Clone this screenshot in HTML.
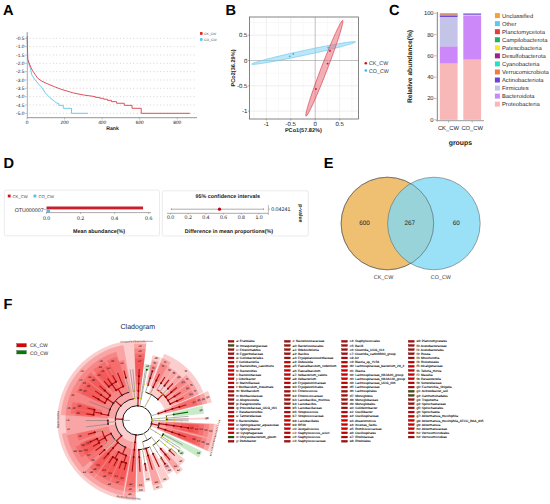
<!DOCTYPE html>
<html><head><meta charset="utf-8"><style>
html,body{margin:0;padding:0;background:#fff;}
svg{display:block;font-family:"Liberation Sans", sans-serif;text-rendering:geometricPrecision;}
</style></head><body>
<svg width="550" height="504" viewBox="0 0 550 504">
<text x="3.00" y="14.50" font-size="14.6" fill="#000" text-anchor="start" font-weight="bold" >A</text>
<text x="225.50" y="14.70" font-size="14.6" fill="#000" text-anchor="start" font-weight="bold" >B</text>
<text x="389.00" y="14.50" font-size="14.6" fill="#000" text-anchor="start" font-weight="bold" >C</text>
<text x="3.50" y="168.00" font-size="14.6" fill="#000" text-anchor="start" font-weight="bold" >D</text>
<text x="323.70" y="168.00" font-size="14.6" fill="#000" text-anchor="start" font-weight="bold" >E</text>
<text x="3.50" y="308.70" font-size="14.6" fill="#000" text-anchor="start" font-weight="bold" >F</text>
<line x1="29.5" y1="38.30" x2="197" y2="38.30" stroke="#c4c4c4" stroke-width="0.8" stroke-dasharray="0.9 2.45"/>
<text x="24.40" y="40.00" font-size="4.8" fill="#111" text-anchor="end" font-weight="normal" >-0.5</text>
<line x1="25" y1="38.30" x2="27" y2="38.30" stroke="#888" stroke-width="0.5"/>
<line x1="29.5" y1="46.63" x2="197" y2="46.63" stroke="#c4c4c4" stroke-width="0.8" stroke-dasharray="0.9 2.45"/>
<text x="24.40" y="48.34" font-size="4.8" fill="#111" text-anchor="end" font-weight="normal" >-1.0</text>
<line x1="25" y1="46.63" x2="27" y2="46.63" stroke="#888" stroke-width="0.5"/>
<line x1="29.5" y1="54.97" x2="197" y2="54.97" stroke="#c4c4c4" stroke-width="0.8" stroke-dasharray="0.9 2.45"/>
<text x="24.40" y="56.67" font-size="4.8" fill="#111" text-anchor="end" font-weight="normal" >-1.5</text>
<line x1="25" y1="54.97" x2="27" y2="54.97" stroke="#888" stroke-width="0.5"/>
<line x1="29.5" y1="63.30" x2="197" y2="63.30" stroke="#c4c4c4" stroke-width="0.8" stroke-dasharray="0.9 2.45"/>
<text x="24.40" y="65.00" font-size="4.8" fill="#111" text-anchor="end" font-weight="normal" >-2.0</text>
<line x1="25" y1="63.30" x2="27" y2="63.30" stroke="#888" stroke-width="0.5"/>
<line x1="29.5" y1="71.64" x2="197" y2="71.64" stroke="#c4c4c4" stroke-width="0.8" stroke-dasharray="0.9 2.45"/>
<text x="24.40" y="73.34" font-size="4.8" fill="#111" text-anchor="end" font-weight="normal" >-2.5</text>
<line x1="25" y1="71.64" x2="27" y2="71.64" stroke="#888" stroke-width="0.5"/>
<line x1="29.5" y1="79.97" x2="197" y2="79.97" stroke="#c4c4c4" stroke-width="0.8" stroke-dasharray="0.9 2.45"/>
<text x="24.40" y="81.67" font-size="4.8" fill="#111" text-anchor="end" font-weight="normal" >-3.0</text>
<line x1="25" y1="79.97" x2="27" y2="79.97" stroke="#888" stroke-width="0.5"/>
<line x1="29.5" y1="88.31" x2="197" y2="88.31" stroke="#c4c4c4" stroke-width="0.8" stroke-dasharray="0.9 2.45"/>
<text x="24.40" y="90.01" font-size="4.8" fill="#111" text-anchor="end" font-weight="normal" >-3.5</text>
<line x1="25" y1="88.31" x2="27" y2="88.31" stroke="#888" stroke-width="0.5"/>
<line x1="29.5" y1="96.65" x2="197" y2="96.65" stroke="#c4c4c4" stroke-width="0.8" stroke-dasharray="0.9 2.45"/>
<text x="24.40" y="98.35" font-size="4.8" fill="#111" text-anchor="end" font-weight="normal" >-4.0</text>
<line x1="25" y1="96.65" x2="27" y2="96.65" stroke="#888" stroke-width="0.5"/>
<line x1="29.5" y1="104.98" x2="197" y2="104.98" stroke="#c4c4c4" stroke-width="0.8" stroke-dasharray="0.9 2.45"/>
<text x="24.40" y="106.68" font-size="4.8" fill="#111" text-anchor="end" font-weight="normal" >-4.5</text>
<line x1="25" y1="104.98" x2="27" y2="104.98" stroke="#888" stroke-width="0.5"/>
<line x1="29.5" y1="113.32" x2="197" y2="113.32" stroke="#c4c4c4" stroke-width="0.8" stroke-dasharray="0.9 2.45"/>
<text x="24.40" y="115.02" font-size="4.8" fill="#111" text-anchor="end" font-weight="normal" >-5.0</text>
<line x1="25" y1="113.32" x2="27" y2="113.32" stroke="#888" stroke-width="0.5"/>
<line x1="27.4" y1="32" x2="27.4" y2="118.2" stroke="#bbb" stroke-width="1.3"/>
<line x1="27" y1="117.6" x2="197" y2="117.6" stroke="#aaa" stroke-width="1.3"/>
<line x1="27.00" y1="117.6" x2="27.00" y2="119.5" stroke="#888" stroke-width="0.5"/>
<text x="27.00" y="123.60" font-size="4.8" fill="#111" text-anchor="middle" font-weight="normal" >0</text>
<line x1="64.58" y1="117.6" x2="64.58" y2="119.5" stroke="#888" stroke-width="0.5"/>
<text x="64.58" y="123.60" font-size="4.8" fill="#111" text-anchor="middle" font-weight="normal" >200</text>
<line x1="102.15" y1="117.6" x2="102.15" y2="119.5" stroke="#888" stroke-width="0.5"/>
<text x="102.15" y="123.60" font-size="4.8" fill="#111" text-anchor="middle" font-weight="normal" >400</text>
<line x1="139.73" y1="117.6" x2="139.73" y2="119.5" stroke="#888" stroke-width="0.5"/>
<text x="139.73" y="123.60" font-size="4.8" fill="#111" text-anchor="middle" font-weight="normal" >600</text>
<line x1="177.30" y1="117.6" x2="177.30" y2="119.5" stroke="#888" stroke-width="0.5"/>
<text x="177.30" y="123.60" font-size="4.8" fill="#111" text-anchor="middle" font-weight="normal" >800</text>
<text x="112.50" y="129.80" font-size="5.2" fill="#222" text-anchor="middle" font-weight="bold" >Rank</text>
<polyline points="27.19,32.63 27.38,43.30 27.56,51.64 27.75,59.47 28.69,63.30 30.38,68.31 31.88,74.97 35.27,80.14 39.02,84.64 41.47,87.14 45.41,92.98 49.73,97.48 54.24,101.15 57.06,103.31 58.75,103.31 58.75,105.36 63.26,105.36 63.26,108.30 71.53,108.30 71.53,113.32 88.06,113.32" fill="none" stroke="#6fcbea" stroke-width="1" stroke-linejoin="round"/>
<polyline points="27.19,36.30 27.38,44.97 27.56,53.30 27.75,59.47 29.07,62.97 30.95,67.47 32.64,70.81 34.89,74.14 37.71,78.31 42.03,81.31 47.85,83.98 54.24,86.64 60.63,89.14 73.41,92.98 83.36,94.98 95.39,96.65 95.39,97.41 99.71,97.41 99.71,98.26 103.66,98.26 103.66,99.23 107.41,99.23 107.41,100.34 111.36,100.34 111.36,101.66 116.62,101.66 116.62,103.28 124.32,103.28 124.32,105.36 132.02,105.36 132.02,108.30 141.23,108.30 141.23,113.32 189.89,113.32" fill="none" stroke="#e0505a" stroke-width="1" stroke-linejoin="round"/>
<rect x="200" y="32.1" width="2.6" height="2.7" fill="#e02020"/>
<rect x="200" y="38.1" width="2.6" height="2.7" fill="#5bc4ee"/>
<text x="204.00" y="35.00" font-size="3.4" fill="#555" text-anchor="start" font-weight="normal" >CK_CW</text>
<text x="204.00" y="40.90" font-size="3.4" fill="#555" text-anchor="start" font-weight="normal" >CO_CW</text>
<rect x="249.5" y="17" width="109" height="102" fill="#fff"/>
<line x1="254.07" y1="17" x2="254.07" y2="119" stroke="#efefef" stroke-width="0.4"/>
<line x1="278.52" y1="17" x2="278.52" y2="119" stroke="#efefef" stroke-width="0.4"/>
<line x1="302.97" y1="17" x2="302.97" y2="119" stroke="#efefef" stroke-width="0.4"/>
<line x1="327.43" y1="17" x2="327.43" y2="119" stroke="#efefef" stroke-width="0.4"/>
<line x1="351.88" y1="17" x2="351.88" y2="119" stroke="#efefef" stroke-width="0.4"/>
<line x1="249.5" y1="98.45" x2="358.5" y2="98.45" stroke="#efefef" stroke-width="0.4"/>
<line x1="249.5" y1="73.15" x2="358.5" y2="73.15" stroke="#efefef" stroke-width="0.4"/>
<line x1="249.5" y1="47.85" x2="358.5" y2="47.85" stroke="#efefef" stroke-width="0.4"/>
<line x1="249.5" y1="22.55" x2="358.5" y2="22.55" stroke="#efefef" stroke-width="0.4"/>
<line x1="266.30" y1="17" x2="266.30" y2="119" stroke="#e2e2e2" stroke-width="0.6"/>
<line x1="290.75" y1="17" x2="290.75" y2="119" stroke="#e2e2e2" stroke-width="0.6"/>
<line x1="339.65" y1="17" x2="339.65" y2="119" stroke="#e2e2e2" stroke-width="0.6"/>
<line x1="249.5" y1="111.10" x2="358.5" y2="111.10" stroke="#e2e2e2" stroke-width="0.6"/>
<line x1="249.5" y1="85.80" x2="358.5" y2="85.80" stroke="#e2e2e2" stroke-width="0.6"/>
<line x1="249.5" y1="35.20" x2="358.5" y2="35.20" stroke="#e2e2e2" stroke-width="0.6"/>
<line x1="315.20" y1="17" x2="315.20" y2="119" stroke="#9a9a9a" stroke-width="0.6"/>
<line x1="249.5" y1="60.50" x2="358.5" y2="60.50" stroke="#9a9a9a" stroke-width="0.6"/>
<ellipse cx="303.6" cy="53" rx="53.1" ry="2.4" transform="rotate(-12.1 303.6 53)" fill="#86d3f0" fill-opacity="0.55" stroke="#6cc8ee" stroke-width="0.6"/>
<ellipse cx="324.35" cy="68.3" rx="51.3" ry="3.1" transform="rotate(-69 324.35 68.3)" fill="#e8707a" fill-opacity="0.55" stroke="#dd4050" stroke-width="0.6"/>
<circle cx="289.7" cy="56.3" r="0.9" fill="#3bb4e8"/>
<circle cx="293.3" cy="54" r="0.9" fill="#3bb4e8"/>
<circle cx="328.2" cy="47.6" r="0.9" fill="#3bb4e8"/>
<circle cx="330" cy="50.9" r="0.9" fill="#d01020"/>
<circle cx="327.6" cy="63.6" r="0.9" fill="#d01020"/>
<circle cx="315.9" cy="89" r="0.9" fill="#d01020"/>
<rect x="249.5" y="17" width="109" height="102" fill="none" stroke="#666" stroke-width="0.8"/>
<text x="247.40" y="37.30" font-size="6.0" fill="#1a1a1a" text-anchor="end" font-weight="normal" >0.5</text>
<line x1="248" y1="35.20" x2="249.5" y2="35.20" stroke="#666" stroke-width="0.5"/>
<text x="247.40" y="62.60" font-size="6.0" fill="#1a1a1a" text-anchor="end" font-weight="normal" >0</text>
<line x1="248" y1="60.50" x2="249.5" y2="60.50" stroke="#666" stroke-width="0.5"/>
<text x="247.40" y="87.90" font-size="6.0" fill="#1a1a1a" text-anchor="end" font-weight="normal" >-0.5</text>
<line x1="248" y1="85.80" x2="249.5" y2="85.80" stroke="#666" stroke-width="0.5"/>
<text x="247.40" y="113.20" font-size="6.0" fill="#1a1a1a" text-anchor="end" font-weight="normal" >-1</text>
<line x1="248" y1="111.10" x2="249.5" y2="111.10" stroke="#666" stroke-width="0.5"/>
<text x="266.30" y="125.90" font-size="6.0" fill="#1a1a1a" text-anchor="middle" font-weight="normal" >-1</text>
<line x1="266.30" y1="119" x2="266.30" y2="120.5" stroke="#666" stroke-width="0.5"/>
<text x="290.75" y="125.90" font-size="6.0" fill="#1a1a1a" text-anchor="middle" font-weight="normal" >-0.5</text>
<line x1="290.75" y1="119" x2="290.75" y2="120.5" stroke="#666" stroke-width="0.5"/>
<text x="315.20" y="125.90" font-size="6.0" fill="#1a1a1a" text-anchor="middle" font-weight="normal" >0</text>
<line x1="315.20" y1="119" x2="315.20" y2="120.5" stroke="#666" stroke-width="0.5"/>
<text x="339.65" y="125.90" font-size="6.0" fill="#1a1a1a" text-anchor="middle" font-weight="normal" >0.5</text>
<line x1="339.65" y1="119" x2="339.65" y2="120.5" stroke="#666" stroke-width="0.5"/>
<text x="303.40" y="131.80" font-size="5.6" fill="#222" text-anchor="middle" font-weight="bold" >PCo1(57.82%)</text>
<text x="0.00" y="0.00" font-size="5.6" fill="#222" text-anchor="middle" font-weight="bold" transform="translate(234.6 68) rotate(-90)">PCo2(36.29%)</text>
<circle cx="365.8" cy="63.3" r="1.3" fill="#d01020"/>
<circle cx="365.8" cy="70.5" r="1.3" fill="#3bb4e8"/>
<text x="369.00" y="65.30" font-size="5.3" fill="#333" text-anchor="start" font-weight="normal" >CK_CW</text>
<text x="369.00" y="72.50" font-size="5.3" fill="#333" text-anchor="start" font-weight="normal" >CO_CW</text>
<rect x="439.8" y="63.48" width="17.8" height="56.37" fill="#f8b8b8"/>
<rect x="439.8" y="46.28" width="17.8" height="17.26" fill="#cc88f8"/>
<rect x="439.8" y="16.89" width="17.8" height="29.44" fill="#c4c4e8"/>
<rect x="439.8" y="15.39" width="17.8" height="1.55" fill="#6a40d8"/>
<rect x="439.8" y="14.32" width="17.8" height="1.12" fill="#f27a40"/>
<rect x="439.8" y="14.16" width="17.8" height="0.21" fill="#28e0c0"/>
<rect x="439.8" y="13.79" width="17.8" height="0.42" fill="#e83a44"/>
<rect x="439.8" y="13.41" width="17.8" height="0.42" fill="#22b064"/>
<rect x="439.8" y="13.31" width="17.8" height="0.16" fill="#5bc8f0"/>
<rect x="439.8" y="13.20" width="17.8" height="0.16" fill="#f0a438"/>
<rect x="463.3" y="59.57" width="17.8" height="60.28" fill="#f8b8b8"/>
<rect x="463.3" y="15.55" width="17.8" height="44.08" fill="#cc88f8"/>
<rect x="463.3" y="14.64" width="17.8" height="0.96" fill="#c4c4e8"/>
<rect x="463.3" y="13.57" width="17.8" height="1.12" fill="#6a40d8"/>
<rect x="463.3" y="13.41" width="17.8" height="0.21" fill="#5bc8f0"/>
<rect x="463.3" y="13.20" width="17.8" height="0.26" fill="#28e0c0"/>
<line x1="437.4" y1="12" x2="437.4" y2="121.2" stroke="#999" stroke-width="1.3"/>
<line x1="436.2" y1="120.7" x2="484" y2="120.7" stroke="#999" stroke-width="1.0"/>
<line x1="434.2" y1="119.80" x2="436.5" y2="119.80" stroke="#777" stroke-width="0.5"/>
<text x="433.60" y="121.80" font-size="5.8" fill="#1a1a1a" text-anchor="end" font-weight="normal" >0</text>
<line x1="434.2" y1="98.48" x2="436.5" y2="98.48" stroke="#777" stroke-width="0.5"/>
<text x="433.60" y="100.48" font-size="5.8" fill="#1a1a1a" text-anchor="end" font-weight="normal" >20</text>
<line x1="434.2" y1="77.16" x2="436.5" y2="77.16" stroke="#777" stroke-width="0.5"/>
<text x="433.60" y="79.16" font-size="5.8" fill="#1a1a1a" text-anchor="end" font-weight="normal" >40</text>
<line x1="434.2" y1="55.84" x2="436.5" y2="55.84" stroke="#777" stroke-width="0.5"/>
<text x="433.60" y="57.84" font-size="5.8" fill="#1a1a1a" text-anchor="end" font-weight="normal" >60</text>
<line x1="434.2" y1="34.52" x2="436.5" y2="34.52" stroke="#777" stroke-width="0.5"/>
<text x="433.60" y="36.52" font-size="5.8" fill="#1a1a1a" text-anchor="end" font-weight="normal" >80</text>
<line x1="434.2" y1="13.20" x2="436.5" y2="13.20" stroke="#777" stroke-width="0.5"/>
<text x="433.60" y="15.20" font-size="5.8" fill="#1a1a1a" text-anchor="end" font-weight="normal" >100</text>
<line x1="448.6" y1="121" x2="448.6" y2="122.6" stroke="#777" stroke-width="0.5"/>
<line x1="472.2" y1="121" x2="472.2" y2="122.6" stroke="#777" stroke-width="0.5"/>
<text x="448.40" y="129.60" font-size="5.8" fill="#222" text-anchor="middle" font-weight="normal" >CK_CW</text>
<text x="472.20" y="129.60" font-size="5.8" fill="#222" text-anchor="middle" font-weight="normal" >CO_CW</text>
<text x="460.40" y="145.20" font-size="6.9" fill="#1a1a1a" text-anchor="middle" font-weight="bold" >groups</text>
<text x="0.00" y="0.00" font-size="6.7" fill="#222" text-anchor="middle" font-weight="bold" transform="translate(411.8 66.5) rotate(-90)">Relative abundance(%)</text>
<rect x="494.9" y="13.10" width="5" height="5" fill="#f0a438"/>
<text x="502.00" y="17.60" font-size="5.8" fill="#2a2a2a" text-anchor="start" font-weight="normal" >Unclassified</text>
<rect x="494.9" y="21.15" width="5" height="5" fill="#5bc8f0"/>
<text x="502.00" y="25.65" font-size="5.8" fill="#2a2a2a" text-anchor="start" font-weight="normal" >Other</text>
<rect x="494.9" y="29.20" width="5" height="5" fill="#e83a44"/>
<text x="502.00" y="33.70" font-size="5.8" fill="#2a2a2a" text-anchor="start" font-weight="normal" >Planctomycetota</text>
<rect x="494.9" y="37.25" width="5" height="5" fill="#22b064"/>
<text x="502.00" y="41.75" font-size="5.8" fill="#2a2a2a" text-anchor="start" font-weight="normal" >Campilobacterota</text>
<rect x="494.9" y="45.30" width="5" height="5" fill="#f6ea2a"/>
<text x="502.00" y="49.80" font-size="5.8" fill="#2a2a2a" text-anchor="start" font-weight="normal" >Patescibacteria</text>
<rect x="494.9" y="53.35" width="5" height="5" fill="#a0208e"/>
<text x="502.00" y="57.85" font-size="5.8" fill="#2a2a2a" text-anchor="start" font-weight="normal" >Desulfobacterota</text>
<rect x="494.9" y="61.40" width="5" height="5" fill="#28e0c0"/>
<text x="502.00" y="65.90" font-size="5.8" fill="#2a2a2a" text-anchor="start" font-weight="normal" >Cyanobacteria</text>
<rect x="494.9" y="69.45" width="5" height="5" fill="#f27a40"/>
<text x="502.00" y="73.95" font-size="5.8" fill="#2a2a2a" text-anchor="start" font-weight="normal" >Verrucomicrobiota</text>
<rect x="494.9" y="77.50" width="5" height="5" fill="#6a40d8"/>
<text x="502.00" y="82.00" font-size="5.8" fill="#2a2a2a" text-anchor="start" font-weight="normal" >Actinobacteriota</text>
<rect x="494.9" y="85.55" width="5" height="5" fill="#c4c4e8"/>
<text x="502.00" y="90.05" font-size="5.8" fill="#2a2a2a" text-anchor="start" font-weight="normal" >Firmicutes</text>
<rect x="494.9" y="93.60" width="5" height="5" fill="#cc88f8"/>
<text x="502.00" y="98.10" font-size="5.8" fill="#2a2a2a" text-anchor="start" font-weight="normal" >Bacteroidota</text>
<rect x="494.9" y="101.65" width="5" height="5" fill="#f8b8b8"/>
<text x="502.00" y="106.15" font-size="5.8" fill="#2a2a2a" text-anchor="start" font-weight="normal" >Proteobacteria</text>
<rect x="4.4" y="190.1" width="155.1" height="45.7" rx="1.5" fill="#fff" stroke="#ddd" stroke-width="0.6"/>
<rect x="162.3" y="190.8" width="146" height="45.2" rx="1.5" fill="#fff" stroke="#ddd" stroke-width="0.6"/>
<rect x="7.8" y="194.6" width="2.8" height="2.8" fill="#d01020"/>
<text x="12.50" y="197.60" font-size="4.2" fill="#333" text-anchor="start" font-weight="normal" >CK_CW</text>
<rect x="33.5" y="194.6" width="2.8" height="2.8" fill="#4cc0ea"/>
<text x="38.40" y="197.60" font-size="4.2" fill="#333" text-anchor="start" font-weight="normal" >CO_CW</text>
<rect x="46.5" y="206.5" width="96.56" height="2.9" fill="#c8202a"/>
<rect x="46.5" y="209.4" width="3.6" height="2.9" fill="#4cc0ea"/>
<text x="43.60" y="211.50" font-size="5.3" fill="#1a1a1a" text-anchor="end" font-weight="normal" >OTU000007</text>
<line x1="44" y1="209.4" x2="46" y2="209.4" stroke="#555" stroke-width="0.4"/>
<line x1="46" y1="212.6" x2="151" y2="212.6" stroke="#555" stroke-width="0.5"/>
<line x1="46.50" y1="212.6" x2="46.50" y2="214" stroke="#555" stroke-width="0.4"/>
<text x="46.50" y="220.30" font-size="5.2" fill="#1a1a1a" text-anchor="middle" font-weight="normal" >0.0</text>
<line x1="80.56" y1="212.6" x2="80.56" y2="214" stroke="#555" stroke-width="0.4"/>
<text x="80.56" y="220.30" font-size="5.2" fill="#1a1a1a" text-anchor="middle" font-weight="normal" >0.2</text>
<line x1="114.62" y1="212.6" x2="114.62" y2="214" stroke="#555" stroke-width="0.4"/>
<text x="114.62" y="220.30" font-size="5.2" fill="#1a1a1a" text-anchor="middle" font-weight="normal" >0.4</text>
<line x1="148.68" y1="212.6" x2="148.68" y2="214" stroke="#555" stroke-width="0.4"/>
<text x="148.68" y="220.30" font-size="5.2" fill="#1a1a1a" text-anchor="middle" font-weight="normal" >0.6</text>
<text x="99.00" y="233.30" font-size="5.4" fill="#222" text-anchor="middle" font-weight="bold" >Mean abundance(%)</text>
<text x="227.70" y="198.20" font-size="5.4" fill="#222" text-anchor="middle" font-weight="bold" >95% confidence intervals</text>
<line x1="171.38" y1="209.2" x2="263.43" y2="209.2" stroke="#333" stroke-width="0.4"/>
<line x1="171.38" y1="208.3" x2="171.38" y2="210.1" stroke="#333" stroke-width="0.4"/>
<line x1="263.43" y1="208.3" x2="263.43" y2="210.1" stroke="#333" stroke-width="0.4"/>
<circle cx="219.5" cy="209.2" r="1.6" fill="#c00010"/>
<line x1="167" y1="213.3" x2="268" y2="213.3" stroke="#555" stroke-width="0.5"/>
<line x1="170.50" y1="213.3" x2="170.50" y2="214.6" stroke="#555" stroke-width="0.4"/>
<text x="170.50" y="219.40" font-size="5.2" fill="#1a1a1a" text-anchor="middle" font-weight="normal" >0.0</text>
<line x1="188.20" y1="213.3" x2="188.20" y2="214.6" stroke="#555" stroke-width="0.4"/>
<text x="188.20" y="219.40" font-size="5.2" fill="#1a1a1a" text-anchor="middle" font-weight="normal" >0.2</text>
<line x1="205.90" y1="213.3" x2="205.90" y2="214.6" stroke="#555" stroke-width="0.4"/>
<text x="205.90" y="219.40" font-size="5.2" fill="#1a1a1a" text-anchor="middle" font-weight="normal" >0.4</text>
<line x1="223.60" y1="213.3" x2="223.60" y2="214.6" stroke="#555" stroke-width="0.4"/>
<text x="223.60" y="219.40" font-size="5.2" fill="#1a1a1a" text-anchor="middle" font-weight="normal" >0.6</text>
<line x1="241.30" y1="213.3" x2="241.30" y2="214.6" stroke="#555" stroke-width="0.4"/>
<text x="241.30" y="219.40" font-size="5.2" fill="#1a1a1a" text-anchor="middle" font-weight="normal" >0.8</text>
<line x1="259.00" y1="213.3" x2="259.00" y2="214.6" stroke="#555" stroke-width="0.4"/>
<text x="259.00" y="219.40" font-size="5.2" fill="#1a1a1a" text-anchor="middle" font-weight="normal" >1.0</text>
<line x1="268.4" y1="205" x2="268.4" y2="215" stroke="#555" stroke-width="0.4"/>
<line x1="268.4" y1="209.2" x2="270" y2="209.2" stroke="#555" stroke-width="0.4"/>
<text x="271.20" y="211.10" font-size="5.3" fill="#1a1a1a" text-anchor="start" font-weight="normal" >0.04241</text>
<text x="229.00" y="233.10" font-size="5.4" fill="#222" text-anchor="middle" font-weight="bold" >Difference in mean proportions(%)</text>
<text x="0.00" y="0.00" font-size="5.2" fill="#222" text-anchor="middle" font-weight="bold" transform="translate(299.3 213.4) rotate(90)">p-value</text>
<circle cx="387.4" cy="223.5" r="46.3" fill="#f0c072" stroke="#555" stroke-width="0.5"/>
<circle cx="433.9" cy="223.5" r="46.3" fill="#7ed8f6" fill-opacity="0.78" stroke="#555" stroke-width="0.5"/>
<circle cx="387.4" cy="223.5" r="46.3" fill="none" stroke="#555" stroke-width="0.5"/>
<text x="364.60" y="224.90" font-size="6.4" fill="#1a1a1a" text-anchor="middle" font-weight="normal" >600</text>
<text x="409.80" y="224.90" font-size="6.4" fill="#1a1a1a" text-anchor="middle" font-weight="normal" >267</text>
<text x="456.30" y="224.90" font-size="6.4" fill="#1a1a1a" text-anchor="middle" font-weight="normal" >60</text>
<text x="383.60" y="278.80" font-size="5.4" fill="#3a3a3a" text-anchor="middle" font-weight="normal" >CK_CW</text>
<text x="440.90" y="278.80" font-size="5.4" fill="#3a3a3a" text-anchor="middle" font-weight="normal" >CO_CW</text>
<text x="137.80" y="328.90" font-size="7.1" fill="#2a2a2a" text-anchor="middle" font-weight="normal" >Cladogram</text>
<rect x="16.7" y="343.5" width="9.7" height="3.5" fill="#e00000" stroke="#444" stroke-width="0.3"/>
<rect x="16.7" y="350.5" width="9.7" height="3.5" fill="#008000" stroke="#444" stroke-width="0.3"/>
<text x="29.90" y="347.30" font-size="4.95" fill="#222" text-anchor="start" font-weight="normal" >CK_CW</text>
<text x="29.90" y="354.50" font-size="4.95" fill="#222" text-anchor="start" font-weight="normal" >CO_CW</text>
<rect x="228.10" y="340.35" width="5.9" height="1.9" fill="#c80000" stroke="#500" stroke-width="0.3"/>
<text transform="translate(236.30 342.40) scale(0.1)" font-size="32.0" fill="#111" text-anchor="start" font-weight="normal" stroke="#111" stroke-width="1.0">a: Frankiales</text>
<rect x="228.10" y="344.51" width="5.9" height="1.9" fill="#007000" stroke="#500" stroke-width="0.3"/>
<text transform="translate(236.30 346.56) scale(0.1)" font-size="32.0" fill="#111" text-anchor="start" font-weight="normal" stroke="#111" stroke-width="1.0">b: Intrasporangiaceae</text>
<rect x="228.10" y="348.68" width="5.9" height="1.9" fill="#c80000" stroke="#500" stroke-width="0.3"/>
<text transform="translate(236.30 350.73) scale(0.1)" font-size="32.0" fill="#111" text-anchor="start" font-weight="normal" stroke="#111" stroke-width="1.0">c: Enterorhabdus</text>
<rect x="228.10" y="352.84" width="5.9" height="1.9" fill="#c80000" stroke="#500" stroke-width="0.3"/>
<text transform="translate(236.30 354.89) scale(0.1)" font-size="32.0" fill="#111" text-anchor="start" font-weight="normal" stroke="#111" stroke-width="1.0">d: Eggerthellaceae</text>
<rect x="228.10" y="357.00" width="5.9" height="1.9" fill="#c80000" stroke="#500" stroke-width="0.3"/>
<text transform="translate(236.30 359.05) scale(0.1)" font-size="32.0" fill="#111" text-anchor="start" font-weight="normal" stroke="#111" stroke-width="1.0">e: Coriobacteriales</text>
<rect x="228.10" y="361.17" width="5.9" height="1.9" fill="#c80000" stroke="#500" stroke-width="0.3"/>
<text transform="translate(236.30 363.22) scale(0.1)" font-size="32.0" fill="#111" text-anchor="start" font-weight="normal" stroke="#111" stroke-width="1.0">f: Coriobacteriia</text>
<rect x="228.10" y="365.33" width="5.9" height="1.9" fill="#c80000" stroke="#500" stroke-width="0.3"/>
<text transform="translate(236.30 367.38) scale(0.1)" font-size="32.0" fill="#111" text-anchor="start" font-weight="normal" stroke="#111" stroke-width="1.0">g: Bacteroides_caecimuris</text>
<rect x="228.10" y="369.49" width="5.9" height="1.9" fill="#c80000" stroke="#500" stroke-width="0.3"/>
<text transform="translate(236.30 371.54) scale(0.1)" font-size="32.0" fill="#111" text-anchor="start" font-weight="normal" stroke="#111" stroke-width="1.0">h: Bacteroides</text>
<rect x="228.10" y="373.65" width="5.9" height="1.9" fill="#c80000" stroke="#500" stroke-width="0.3"/>
<text transform="translate(236.30 375.70) scale(0.1)" font-size="32.0" fill="#111" text-anchor="start" font-weight="normal" stroke="#111" stroke-width="1.0">i: Bacteroidaceae</text>
<rect x="228.10" y="377.82" width="5.9" height="1.9" fill="#c80000" stroke="#500" stroke-width="0.3"/>
<text transform="translate(236.30 379.87) scale(0.1)" font-size="32.0" fill="#111" text-anchor="start" font-weight="normal" stroke="#111" stroke-width="1.0">j: Odoribacter</text>
<rect x="228.10" y="381.98" width="5.9" height="1.9" fill="#c80000" stroke="#500" stroke-width="0.3"/>
<text transform="translate(236.30 384.03) scale(0.1)" font-size="32.0" fill="#111" text-anchor="start" font-weight="normal" stroke="#111" stroke-width="1.0">k: Marinifilaceae</text>
<rect x="228.10" y="386.14" width="5.9" height="1.9" fill="#c80000" stroke="#500" stroke-width="0.3"/>
<text transform="translate(236.30 388.19) scale(0.1)" font-size="32.0" fill="#111" text-anchor="start" font-weight="normal" stroke="#111" stroke-width="1.0">l: Muribaculum_intestinale</text>
<rect x="228.10" y="390.31" width="5.9" height="1.9" fill="#c80000" stroke="#500" stroke-width="0.3"/>
<text transform="translate(236.30 392.36) scale(0.1)" font-size="32.0" fill="#111" text-anchor="start" font-weight="normal" stroke="#111" stroke-width="1.0">m: Muribaculum</text>
<rect x="228.10" y="394.47" width="5.9" height="1.9" fill="#c80000" stroke="#500" stroke-width="0.3"/>
<text transform="translate(236.30 396.52) scale(0.1)" font-size="32.0" fill="#111" text-anchor="start" font-weight="normal" stroke="#111" stroke-width="1.0">n: Muribaculaceae</text>
<rect x="228.10" y="398.63" width="5.9" height="1.9" fill="#c80000" stroke="#500" stroke-width="0.3"/>
<text transform="translate(236.30 400.68) scale(0.1)" font-size="32.0" fill="#111" text-anchor="start" font-weight="normal" stroke="#111" stroke-width="1.0">o: Alloprevotella</text>
<rect x="228.10" y="402.80" width="5.9" height="1.9" fill="#c80000" stroke="#500" stroke-width="0.3"/>
<text transform="translate(236.30 404.85) scale(0.1)" font-size="32.0" fill="#111" text-anchor="start" font-weight="normal" stroke="#111" stroke-width="1.0">p: Paraprevotella</text>
<rect x="228.10" y="406.96" width="5.9" height="1.9" fill="#c80000" stroke="#500" stroke-width="0.3"/>
<text transform="translate(236.30 409.01) scale(0.1)" font-size="32.0" fill="#111" text-anchor="start" font-weight="normal" stroke="#111" stroke-width="1.0">q: Prevotellaceae_UCG_001</text>
<rect x="228.10" y="411.12" width="5.9" height="1.9" fill="#c80000" stroke="#500" stroke-width="0.3"/>
<text transform="translate(236.30 413.17) scale(0.1)" font-size="32.0" fill="#111" text-anchor="start" font-weight="normal" stroke="#111" stroke-width="1.0">r: Parabacteroides</text>
<rect x="228.10" y="415.28" width="5.9" height="1.9" fill="#c80000" stroke="#500" stroke-width="0.3"/>
<text transform="translate(236.30 417.33) scale(0.1)" font-size="32.0" fill="#111" text-anchor="start" font-weight="normal" stroke="#111" stroke-width="1.0">s: Tannerellaceae</text>
<rect x="228.10" y="419.45" width="5.9" height="1.9" fill="#c80000" stroke="#500" stroke-width="0.3"/>
<text transform="translate(236.30 421.50) scale(0.1)" font-size="32.0" fill="#111" text-anchor="start" font-weight="normal" stroke="#111" stroke-width="1.0">t: Bacteroidales</text>
<rect x="228.10" y="423.61" width="5.9" height="1.9" fill="#c80000" stroke="#500" stroke-width="0.3"/>
<text transform="translate(236.30 425.66) scale(0.1)" font-size="32.0" fill="#111" text-anchor="start" font-weight="normal" stroke="#111" stroke-width="1.0">u: Sphingobacter_aquaecolae</text>
<rect x="228.10" y="427.77" width="5.9" height="1.9" fill="#c80000" stroke="#500" stroke-width="0.3"/>
<text transform="translate(236.30 429.82) scale(0.1)" font-size="32.0" fill="#111" text-anchor="start" font-weight="normal" stroke="#111" stroke-width="1.0">v: Sphingobacter</text>
<rect x="228.10" y="431.94" width="5.9" height="1.9" fill="#c80000" stroke="#500" stroke-width="0.3"/>
<text transform="translate(236.30 433.99) scale(0.1)" font-size="32.0" fill="#111" text-anchor="start" font-weight="normal" stroke="#111" stroke-width="1.0">w: Cytophagaceae</text>
<rect x="228.10" y="436.10" width="5.9" height="1.9" fill="#007000" stroke="#500" stroke-width="0.3"/>
<text transform="translate(236.30 438.15) scale(0.1)" font-size="32.0" fill="#111" text-anchor="start" font-weight="normal" stroke="#111" stroke-width="1.0">x: Chryseobacterium_gleum</text>
<rect x="228.10" y="440.26" width="5.9" height="1.9" fill="#c80000" stroke="#500" stroke-width="0.3"/>
<text transform="translate(236.30 442.31) scale(0.1)" font-size="32.0" fill="#111" text-anchor="start" font-weight="normal" stroke="#111" stroke-width="1.0">y: Pedobacter</text>
<rect x="284.40" y="340.35" width="5.9" height="1.9" fill="#c80000" stroke="#500" stroke-width="0.3"/>
<text transform="translate(292.60 342.40) scale(0.1)" font-size="32.0" fill="#111" text-anchor="start" font-weight="normal" stroke="#111" stroke-width="1.0">z: Bacteriovoracaceae</text>
<rect x="284.40" y="344.51" width="5.9" height="1.9" fill="#c80000" stroke="#500" stroke-width="0.3"/>
<text transform="translate(292.60 346.56) scale(0.1)" font-size="32.0" fill="#111" text-anchor="start" font-weight="normal" stroke="#111" stroke-width="1.0">a0: Bacteriovoracales</text>
<rect x="284.40" y="348.68" width="5.9" height="1.9" fill="#c80000" stroke="#500" stroke-width="0.3"/>
<text transform="translate(292.60 350.73) scale(0.1)" font-size="32.0" fill="#111" text-anchor="start" font-weight="normal" stroke="#111" stroke-width="1.0">a1: Bdellovibrionia</text>
<rect x="284.40" y="352.84" width="5.9" height="1.9" fill="#c80000" stroke="#500" stroke-width="0.3"/>
<text transform="translate(292.60 354.89) scale(0.1)" font-size="32.0" fill="#111" text-anchor="start" font-weight="normal" stroke="#111" stroke-width="1.0">a2: Bacillus</text>
<rect x="284.40" y="357.00" width="5.9" height="1.9" fill="#c80000" stroke="#500" stroke-width="0.3"/>
<text transform="translate(292.60 359.05) scale(0.1)" font-size="32.0" fill="#111" text-anchor="start" font-weight="normal" stroke="#111" stroke-width="1.0">a3: Erysipelatoclostridiaceae</text>
<rect x="284.40" y="361.17" width="5.9" height="1.9" fill="#c80000" stroke="#500" stroke-width="0.3"/>
<text transform="translate(292.60 363.22) scale(0.1)" font-size="32.0" fill="#111" text-anchor="start" font-weight="normal" stroke="#111" stroke-width="1.0">a4: Dubosiella</text>
<rect x="284.40" y="365.33" width="5.9" height="1.9" fill="#c80000" stroke="#500" stroke-width="0.3"/>
<text transform="translate(292.60 367.38) scale(0.1)" font-size="32.0" fill="#111" text-anchor="start" font-weight="normal" stroke="#111" stroke-width="1.0">a5: Faecalibaculum_rodentium</text>
<rect x="284.40" y="369.49" width="5.9" height="1.9" fill="#c80000" stroke="#500" stroke-width="0.3"/>
<text transform="translate(292.60 371.54) scale(0.1)" font-size="32.0" fill="#111" text-anchor="start" font-weight="normal" stroke="#111" stroke-width="1.0">a6: Faecalibaculum</text>
<rect x="284.40" y="373.65" width="5.9" height="1.9" fill="#c80000" stroke="#500" stroke-width="0.3"/>
<text transform="translate(292.60 375.70) scale(0.1)" font-size="32.0" fill="#111" text-anchor="start" font-weight="normal" stroke="#111" stroke-width="1.0">a7: Ileibacterium_valens</text>
<rect x="284.40" y="377.82" width="5.9" height="1.9" fill="#c80000" stroke="#500" stroke-width="0.3"/>
<text transform="translate(292.60 379.87) scale(0.1)" font-size="32.0" fill="#111" text-anchor="start" font-weight="normal" stroke="#111" stroke-width="1.0">a8: Ileibacterium</text>
<rect x="284.40" y="381.98" width="5.9" height="1.9" fill="#c80000" stroke="#500" stroke-width="0.3"/>
<text transform="translate(292.60 384.03) scale(0.1)" font-size="32.0" fill="#111" text-anchor="start" font-weight="normal" stroke="#111" stroke-width="1.0">a9: Erysipelotrichaceae</text>
<rect x="284.40" y="386.14" width="5.9" height="1.9" fill="#c80000" stroke="#500" stroke-width="0.3"/>
<text transform="translate(292.60 388.19) scale(0.1)" font-size="32.0" fill="#111" text-anchor="start" font-weight="normal" stroke="#111" stroke-width="1.0">b0: Erysipelotrichales</text>
<rect x="284.40" y="390.31" width="5.9" height="1.9" fill="#c80000" stroke="#500" stroke-width="0.3"/>
<text transform="translate(292.60 392.36) scale(0.1)" font-size="32.0" fill="#111" text-anchor="start" font-weight="normal" stroke="#111" stroke-width="1.0">b1: Enterococcus</text>
<rect x="284.40" y="394.47" width="5.9" height="1.9" fill="#c80000" stroke="#500" stroke-width="0.3"/>
<text transform="translate(292.60 396.52) scale(0.1)" font-size="32.0" fill="#111" text-anchor="start" font-weight="normal" stroke="#111" stroke-width="1.0">b2: Enterococcaceae</text>
<rect x="284.40" y="398.63" width="5.9" height="1.9" fill="#c80000" stroke="#500" stroke-width="0.3"/>
<text transform="translate(292.60 400.68) scale(0.1)" font-size="32.0" fill="#111" text-anchor="start" font-weight="normal" stroke="#111" stroke-width="1.0">b3: Lactobacillus_murinus</text>
<rect x="284.40" y="402.80" width="5.9" height="1.9" fill="#c80000" stroke="#500" stroke-width="0.3"/>
<text transform="translate(292.60 404.85) scale(0.1)" font-size="32.0" fill="#111" text-anchor="start" font-weight="normal" stroke="#111" stroke-width="1.0">b4: Lactobacillus</text>
<rect x="284.40" y="406.96" width="5.9" height="1.9" fill="#c80000" stroke="#500" stroke-width="0.3"/>
<text transform="translate(292.60 409.01) scale(0.1)" font-size="32.0" fill="#111" text-anchor="start" font-weight="normal" stroke="#111" stroke-width="1.0">b5: Lactobacillaceae</text>
<rect x="284.40" y="411.12" width="5.9" height="1.9" fill="#c80000" stroke="#500" stroke-width="0.3"/>
<text transform="translate(292.60 413.17) scale(0.1)" font-size="32.0" fill="#111" text-anchor="start" font-weight="normal" stroke="#111" stroke-width="1.0">b6: Streptococcus</text>
<rect x="284.40" y="415.28" width="5.9" height="1.9" fill="#c80000" stroke="#500" stroke-width="0.3"/>
<text transform="translate(292.60 417.33) scale(0.1)" font-size="32.0" fill="#111" text-anchor="start" font-weight="normal" stroke="#111" stroke-width="1.0">b7: Streptococcaceae</text>
<rect x="284.40" y="419.45" width="5.9" height="1.9" fill="#c80000" stroke="#500" stroke-width="0.3"/>
<text transform="translate(292.60 421.50) scale(0.1)" font-size="32.0" fill="#111" text-anchor="start" font-weight="normal" stroke="#111" stroke-width="1.0">b8: Lactobacillales</text>
<rect x="284.40" y="423.61" width="5.9" height="1.9" fill="#c80000" stroke="#500" stroke-width="0.3"/>
<text transform="translate(292.60 425.66) scale(0.1)" font-size="32.0" fill="#111" text-anchor="start" font-weight="normal" stroke="#111" stroke-width="1.0">b9: RF39</text>
<rect x="284.40" y="427.77" width="5.9" height="1.9" fill="#c80000" stroke="#500" stroke-width="0.3"/>
<text transform="translate(292.60 429.82) scale(0.1)" font-size="32.0" fill="#111" text-anchor="start" font-weight="normal" stroke="#111" stroke-width="1.0">c0: Jeotgalicoccus</text>
<rect x="284.40" y="431.94" width="5.9" height="1.9" fill="#c80000" stroke="#500" stroke-width="0.3"/>
<text transform="translate(292.60 433.99) scale(0.1)" font-size="32.0" fill="#111" text-anchor="start" font-weight="normal" stroke="#111" stroke-width="1.0">c1: Staphylococcus_sciuri</text>
<rect x="284.40" y="436.10" width="5.9" height="1.9" fill="#c80000" stroke="#500" stroke-width="0.3"/>
<text transform="translate(292.60 438.15) scale(0.1)" font-size="32.0" fill="#111" text-anchor="start" font-weight="normal" stroke="#111" stroke-width="1.0">c2: Staphylococcus</text>
<rect x="284.40" y="440.26" width="5.9" height="1.9" fill="#c80000" stroke="#500" stroke-width="0.3"/>
<text transform="translate(292.60 442.31) scale(0.1)" font-size="32.0" fill="#111" text-anchor="start" font-weight="normal" stroke="#111" stroke-width="1.0">c3: Staphylococcaceae</text>
<rect x="341.60" y="340.35" width="5.9" height="1.9" fill="#c80000" stroke="#500" stroke-width="0.3"/>
<text transform="translate(349.80 342.40) scale(0.1)" font-size="32.0" fill="#111" text-anchor="start" font-weight="normal" stroke="#111" stroke-width="1.0">c4: Staphylococcales</text>
<rect x="341.60" y="344.51" width="5.9" height="1.9" fill="#c80000" stroke="#500" stroke-width="0.3"/>
<text transform="translate(349.80 346.56) scale(0.1)" font-size="32.0" fill="#111" text-anchor="start" font-weight="normal" stroke="#111" stroke-width="1.0">c5: Bacilli</text>
<rect x="341.60" y="348.68" width="5.9" height="1.9" fill="#c80000" stroke="#500" stroke-width="0.3"/>
<text transform="translate(349.80 350.73) scale(0.1)" font-size="32.0" fill="#111" text-anchor="start" font-weight="normal" stroke="#111" stroke-width="1.0">c6: Clostridia_UCG_014</text>
<rect x="341.60" y="352.84" width="5.9" height="1.9" fill="#c80000" stroke="#500" stroke-width="0.3"/>
<text transform="translate(349.80 354.89) scale(0.1)" font-size="32.0" fill="#111" text-anchor="start" font-weight="normal" stroke="#111" stroke-width="1.0">c7: Clostridia_vadinBB60_group</text>
<rect x="341.60" y="357.00" width="5.9" height="1.9" fill="#c80000" stroke="#500" stroke-width="0.3"/>
<text transform="translate(349.80 359.05) scale(0.1)" font-size="32.0" fill="#111" text-anchor="start" font-weight="normal" stroke="#111" stroke-width="1.0">c8: A2</text>
<rect x="341.60" y="361.17" width="5.9" height="1.9" fill="#c80000" stroke="#500" stroke-width="0.3"/>
<text transform="translate(349.80 363.22) scale(0.1)" font-size="32.0" fill="#111" text-anchor="start" font-weight="normal" stroke="#111" stroke-width="1.0">c9: Blautia_sp_YL58</text>
<rect x="341.60" y="365.33" width="5.9" height="1.9" fill="#c80000" stroke="#500" stroke-width="0.3"/>
<text transform="translate(349.80 367.38) scale(0.1)" font-size="32.0" fill="#111" text-anchor="start" font-weight="normal" stroke="#111" stroke-width="1.0">d0: Lachnospiraceae_bacterium_28_4</text>
<rect x="341.60" y="369.49" width="5.9" height="1.9" fill="#c80000" stroke="#500" stroke-width="0.3"/>
<text transform="translate(349.80 371.54) scale(0.1)" font-size="32.0" fill="#111" text-anchor="start" font-weight="normal" stroke="#111" stroke-width="1.0">d1: Blautia</text>
<rect x="341.60" y="373.65" width="5.9" height="1.9" fill="#c80000" stroke="#500" stroke-width="0.3"/>
<text transform="translate(349.80 375.70) scale(0.1)" font-size="32.0" fill="#111" text-anchor="start" font-weight="normal" stroke="#111" stroke-width="1.0">d2: Lachnospiraceae_NK3A20_group</text>
<rect x="341.60" y="377.82" width="5.9" height="1.9" fill="#c80000" stroke="#500" stroke-width="0.3"/>
<text transform="translate(349.80 379.87) scale(0.1)" font-size="32.0" fill="#111" text-anchor="start" font-weight="normal" stroke="#111" stroke-width="1.0">d3: Lachnospiraceae_NK4A136_group</text>
<rect x="341.60" y="381.98" width="5.9" height="1.9" fill="#c80000" stroke="#500" stroke-width="0.3"/>
<text transform="translate(349.80 384.03) scale(0.1)" font-size="32.0" fill="#111" text-anchor="start" font-weight="normal" stroke="#111" stroke-width="1.0">d4: Lachnospiraceae_UCG_006</text>
<rect x="341.60" y="386.14" width="5.9" height="1.9" fill="#c80000" stroke="#500" stroke-width="0.3"/>
<text transform="translate(349.80 388.19) scale(0.1)" font-size="32.0" fill="#111" text-anchor="start" font-weight="normal" stroke="#111" stroke-width="1.0">d5: Lachnospiraceae</text>
<rect x="341.60" y="390.31" width="5.9" height="1.9" fill="#c80000" stroke="#500" stroke-width="0.3"/>
<text transform="translate(349.80 392.36) scale(0.1)" font-size="32.0" fill="#111" text-anchor="start" font-weight="normal" stroke="#111" stroke-width="1.0">d6: Lachnospirales</text>
<rect x="341.60" y="394.47" width="5.9" height="1.9" fill="#c80000" stroke="#500" stroke-width="0.3"/>
<text transform="translate(349.80 396.52) scale(0.1)" font-size="32.0" fill="#111" text-anchor="start" font-weight="normal" stroke="#111" stroke-width="1.0">d7: Monoglobus</text>
<rect x="341.60" y="398.63" width="5.9" height="1.9" fill="#c80000" stroke="#500" stroke-width="0.3"/>
<text transform="translate(349.80 400.68) scale(0.1)" font-size="32.0" fill="#111" text-anchor="start" font-weight="normal" stroke="#111" stroke-width="1.0">d8: Monoglobaceae</text>
<rect x="341.60" y="402.80" width="5.9" height="1.9" fill="#c80000" stroke="#500" stroke-width="0.3"/>
<text transform="translate(349.80 404.85) scale(0.1)" font-size="32.0" fill="#111" text-anchor="start" font-weight="normal" stroke="#111" stroke-width="1.0">d9: Monoglobales</text>
<rect x="341.60" y="406.96" width="5.9" height="1.9" fill="#c80000" stroke="#500" stroke-width="0.3"/>
<text transform="translate(349.80 409.01) scale(0.1)" font-size="32.0" fill="#111" text-anchor="start" font-weight="normal" stroke="#111" stroke-width="1.0">e0: Colidextribacter</text>
<rect x="341.60" y="411.12" width="5.9" height="1.9" fill="#c80000" stroke="#500" stroke-width="0.3"/>
<text transform="translate(349.80 413.17) scale(0.1)" font-size="32.0" fill="#111" text-anchor="start" font-weight="normal" stroke="#111" stroke-width="1.0">e1: Oscillibacter</text>
<rect x="341.60" y="415.28" width="5.9" height="1.9" fill="#c80000" stroke="#500" stroke-width="0.3"/>
<text transform="translate(349.80 417.33) scale(0.1)" font-size="32.0" fill="#111" text-anchor="start" font-weight="normal" stroke="#111" stroke-width="1.0">e2: Oscillospiraceae</text>
<rect x="341.60" y="419.45" width="5.9" height="1.9" fill="#c80000" stroke="#500" stroke-width="0.3"/>
<text transform="translate(349.80 421.50) scale(0.1)" font-size="32.0" fill="#111" text-anchor="start" font-weight="normal" stroke="#111" stroke-width="1.0">e3: Anaerotruncus</text>
<rect x="341.60" y="423.61" width="5.9" height="1.9" fill="#c80000" stroke="#500" stroke-width="0.3"/>
<text transform="translate(349.80 425.66) scale(0.1)" font-size="32.0" fill="#111" text-anchor="start" font-weight="normal" stroke="#111" stroke-width="1.0">e4: Incertae_Sedis</text>
<rect x="341.60" y="427.77" width="5.9" height="1.9" fill="#c80000" stroke="#500" stroke-width="0.3"/>
<text transform="translate(349.80 429.82) scale(0.1)" font-size="32.0" fill="#111" text-anchor="start" font-weight="normal" stroke="#111" stroke-width="1.0">e5: Ruminococcaceae</text>
<rect x="341.60" y="431.94" width="5.9" height="1.9" fill="#c80000" stroke="#500" stroke-width="0.3"/>
<text transform="translate(349.80 433.99) scale(0.1)" font-size="32.0" fill="#111" text-anchor="start" font-weight="normal" stroke="#111" stroke-width="1.0">e6: Oscillospirales</text>
<rect x="341.60" y="436.10" width="5.9" height="1.9" fill="#c80000" stroke="#500" stroke-width="0.3"/>
<text transform="translate(349.80 438.15) scale(0.1)" font-size="32.0" fill="#111" text-anchor="start" font-weight="normal" stroke="#111" stroke-width="1.0">e7: Pirellulaceae</text>
<rect x="341.60" y="440.26" width="5.9" height="1.9" fill="#c80000" stroke="#500" stroke-width="0.3"/>
<text transform="translate(349.80 442.31) scale(0.1)" font-size="32.0" fill="#111" text-anchor="start" font-weight="normal" stroke="#111" stroke-width="1.0">e8: Pirellulales</text>
<rect x="408.30" y="340.35" width="5.9" height="1.9" fill="#c80000" stroke="#500" stroke-width="0.3"/>
<text transform="translate(416.50 342.40) scale(0.1)" font-size="32.0" fill="#111" text-anchor="start" font-weight="normal" stroke="#111" stroke-width="1.0">e9: Planctomycetales</text>
<rect x="408.30" y="344.51" width="5.9" height="1.9" fill="#c80000" stroke="#500" stroke-width="0.3"/>
<text transform="translate(416.50 346.56) scale(0.1)" font-size="32.0" fill="#111" text-anchor="start" font-weight="normal" stroke="#111" stroke-width="1.0">f0: Acetobacteraceae</text>
<rect x="408.30" y="348.68" width="5.9" height="1.9" fill="#c80000" stroke="#500" stroke-width="0.3"/>
<text transform="translate(416.50 350.73) scale(0.1)" font-size="32.0" fill="#111" text-anchor="start" font-weight="normal" stroke="#111" stroke-width="1.0">f1: Acetobacterales</text>
<rect x="408.30" y="352.84" width="5.9" height="1.9" fill="#c80000" stroke="#500" stroke-width="0.3"/>
<text transform="translate(416.50 354.89) scale(0.1)" font-size="32.0" fill="#111" text-anchor="start" font-weight="normal" stroke="#111" stroke-width="1.0">f2: Rosea</text>
<rect x="408.30" y="357.00" width="5.9" height="1.9" fill="#c80000" stroke="#500" stroke-width="0.3"/>
<text transform="translate(416.50 359.05) scale(0.1)" font-size="32.0" fill="#111" text-anchor="start" font-weight="normal" stroke="#111" stroke-width="1.0">f3: Mitochondria</text>
<rect x="408.30" y="361.17" width="5.9" height="1.9" fill="#c80000" stroke="#500" stroke-width="0.3"/>
<text transform="translate(416.50 363.22) scale(0.1)" font-size="32.0" fill="#111" text-anchor="start" font-weight="normal" stroke="#111" stroke-width="1.0">f4: Rickettsiales</text>
<rect x="408.30" y="365.33" width="5.9" height="1.9" fill="#c80000" stroke="#500" stroke-width="0.3"/>
<text transform="translate(416.50 367.38) scale(0.1)" font-size="32.0" fill="#111" text-anchor="start" font-weight="normal" stroke="#111" stroke-width="1.0">f5: Alcaligenaceae</text>
<rect x="408.30" y="369.49" width="5.9" height="1.9" fill="#c80000" stroke="#500" stroke-width="0.3"/>
<text transform="translate(416.50 371.54) scale(0.1)" font-size="32.0" fill="#111" text-anchor="start" font-weight="normal" stroke="#111" stroke-width="1.0">f6: Tellurla_mirvla</text>
<rect x="408.30" y="373.65" width="5.9" height="1.9" fill="#c80000" stroke="#500" stroke-width="0.3"/>
<text transform="translate(416.50 375.70) scale(0.1)" font-size="32.0" fill="#111" text-anchor="start" font-weight="normal" stroke="#111" stroke-width="1.0">f7: Massilia</text>
<rect x="408.30" y="377.82" width="5.9" height="1.9" fill="#c80000" stroke="#500" stroke-width="0.3"/>
<text transform="translate(416.50 379.87) scale(0.1)" font-size="32.0" fill="#111" text-anchor="start" font-weight="normal" stroke="#111" stroke-width="1.0">f8: Parasutterella</text>
<rect x="408.30" y="381.98" width="5.9" height="1.9" fill="#c80000" stroke="#500" stroke-width="0.3"/>
<text transform="translate(416.50 384.03) scale(0.1)" font-size="32.0" fill="#111" text-anchor="start" font-weight="normal" stroke="#111" stroke-width="1.0">f9: Sutterellaceae</text>
<rect x="408.30" y="386.14" width="5.9" height="1.9" fill="#c80000" stroke="#500" stroke-width="0.3"/>
<text transform="translate(416.50 388.19) scale(0.1)" font-size="32.0" fill="#111" text-anchor="start" font-weight="normal" stroke="#111" stroke-width="1.0">g0: Escherichia_Shigella</text>
<rect x="408.30" y="390.31" width="5.9" height="1.9" fill="#007000" stroke="#500" stroke-width="0.3"/>
<text transform="translate(416.50 392.36) scale(0.1)" font-size="32.0" fill="#111" text-anchor="start" font-weight="normal" stroke="#111" stroke-width="1.0">g1: Acinetobacter_soli</text>
<rect x="408.30" y="394.47" width="5.9" height="1.9" fill="#007000" stroke="#500" stroke-width="0.3"/>
<text transform="translate(416.50 396.52) scale(0.1)" font-size="32.0" fill="#111" text-anchor="start" font-weight="normal" stroke="#111" stroke-width="1.0">g2: Xanthomonadales</text>
<rect x="408.30" y="398.63" width="5.9" height="1.9" fill="#c80000" stroke="#500" stroke-width="0.3"/>
<text transform="translate(416.50 400.68) scale(0.1)" font-size="32.0" fill="#111" text-anchor="start" font-weight="normal" stroke="#111" stroke-width="1.0">g3: Treponema</text>
<rect x="408.30" y="402.80" width="5.9" height="1.9" fill="#c80000" stroke="#500" stroke-width="0.3"/>
<text transform="translate(416.50 404.85) scale(0.1)" font-size="32.0" fill="#111" text-anchor="start" font-weight="normal" stroke="#111" stroke-width="1.0">g4: Spirochaetaceae</text>
<rect x="408.30" y="406.96" width="5.9" height="1.9" fill="#c80000" stroke="#500" stroke-width="0.3"/>
<text transform="translate(416.50 409.01) scale(0.1)" font-size="32.0" fill="#111" text-anchor="start" font-weight="normal" stroke="#111" stroke-width="1.0">g5: Spirochaetales</text>
<rect x="408.30" y="411.12" width="5.9" height="1.9" fill="#c80000" stroke="#500" stroke-width="0.3"/>
<text transform="translate(416.50 413.17) scale(0.1)" font-size="32.0" fill="#111" text-anchor="start" font-weight="normal" stroke="#111" stroke-width="1.0">g6: Spirochaetia</text>
<rect x="408.30" y="415.28" width="5.9" height="1.9" fill="#c80000" stroke="#500" stroke-width="0.3"/>
<text transform="translate(416.50 417.33) scale(0.1)" font-size="32.0" fill="#111" text-anchor="start" font-weight="normal" stroke="#111" stroke-width="1.0">g7: Akkermansia_muciniphila</text>
<rect x="408.30" y="419.45" width="5.9" height="1.9" fill="#c80000" stroke="#500" stroke-width="0.3"/>
<text transform="translate(416.50 421.50) scale(0.1)" font-size="32.0" fill="#111" text-anchor="start" font-weight="normal" stroke="#111" stroke-width="1.0">g8: Akkermansia_muciniphila_ATCC_BAA_835</text>
<rect x="408.30" y="423.61" width="5.9" height="1.9" fill="#c80000" stroke="#500" stroke-width="0.3"/>
<text transform="translate(416.50 425.66) scale(0.1)" font-size="32.0" fill="#111" text-anchor="start" font-weight="normal" stroke="#111" stroke-width="1.0">g9: Akkermansia</text>
<rect x="408.30" y="427.77" width="5.9" height="1.9" fill="#c80000" stroke="#500" stroke-width="0.3"/>
<text transform="translate(416.50 429.82) scale(0.1)" font-size="32.0" fill="#111" text-anchor="start" font-weight="normal" stroke="#111" stroke-width="1.0">h0: Akkermansiaceae</text>
<rect x="408.30" y="431.94" width="5.9" height="1.9" fill="#c80000" stroke="#500" stroke-width="0.3"/>
<text transform="translate(416.50 433.99) scale(0.1)" font-size="32.0" fill="#111" text-anchor="start" font-weight="normal" stroke="#111" stroke-width="1.0">h1: Verrucomicrobiales</text>
<rect x="408.30" y="436.10" width="5.9" height="1.9" fill="#c80000" stroke="#500" stroke-width="0.3"/>
<text transform="translate(416.50 438.15) scale(0.1)" font-size="32.0" fill="#111" text-anchor="start" font-weight="normal" stroke="#111" stroke-width="1.0">h2: Verrucomicrobiae</text>
<path d="M135.90,500.39 A80.0,80.0 0 0 1 122.72,499.06 L134.62,434.85 A14.7,14.7 0 0 0 137.04,435.10 Z" fill="#f21414" fill-opacity="0.21"/>
<path d="M135.29,496.97 A76.6,76.6 0 0 1 124.00,495.84 L133.46,442.16 A22.1,22.1 0 0 0 136.72,442.49 Z" fill="#f21414" fill-opacity="0.21"/>
<path d="M135.42,492.28 A71.9,71.9 0 0 1 124.81,491.21 L132.19,449.35 A29.4,29.4 0 0 0 136.53,449.79 Z" fill="#f21414" fill-opacity="0.21"/>
<path d="M134.96,487.36 A67.0,67.0 0 0 1 126.24,486.48 L131.23,456.70 A36.8,36.8 0 0 0 136.02,457.18 Z" fill="#f21414" fill-opacity="0.21"/>
<path d="M122.72,499.06 A80.0,80.0 0 0 1 133.95,340.47 L136.68,405.71 A14.7,14.7 0 0 0 134.62,434.85 Z" fill="#f21414" fill-opacity="0.21"/>
<path d="M122.68,495.59 A76.6,76.6 0 0 1 61.86,433.70 L115.54,424.24 A22.1,22.1 0 0 0 133.08,442.09 Z" fill="#f21414" fill-opacity="0.21"/>
<path d="M123.58,490.98 A71.9,71.9 0 0 1 94.53,478.20 L119.81,444.03 A29.4,29.4 0 0 0 131.69,449.26 Z" fill="#f21414" fill-opacity="0.21"/>
<path d="M94.03,477.82 A71.9,71.9 0 0 1 86.02,470.80 L116.33,441.01 A29.4,29.4 0 0 0 119.61,443.88 Z" fill="#f21414" fill-opacity="0.21"/>
<path d="M83.04,467.57 A71.9,71.9 0 0 1 66.97,435.35 L108.54,426.51 A29.4,29.4 0 0 0 115.11,439.69 Z" fill="#f21414" fill-opacity="0.21"/>
<path d="M123.37,485.94 A67.0,67.0 0 0 1 110.58,481.84 L122.63,454.15 A36.8,36.8 0 0 0 129.65,456.40 Z" fill="#f21414" fill-opacity="0.21"/>
<path d="M109.52,481.37 A67.0,67.0 0 0 1 97.45,474.26 L115.41,449.98 A36.8,36.8 0 0 0 122.04,453.89 Z" fill="#f21414" fill-opacity="0.21"/>
<path d="M96.98,473.91 A67.0,67.0 0 0 1 89.51,467.36 L111.05,446.19 A36.8,36.8 0 0 0 115.15,449.79 Z" fill="#f21414" fill-opacity="0.21"/>
<path d="M81.43,457.38 A67.0,67.0 0 0 1 75.63,446.58 L103.43,434.78 A36.8,36.8 0 0 0 106.61,440.71 Z" fill="#f21414" fill-opacity="0.21"/>
<path d="M124.39,481.14 A62.1,62.1 0 0 1 118.63,479.63 L124.04,462.46 A44.1,44.1 0 0 0 128.13,463.54 Z" fill="#f21414" fill-opacity="0.21"/>
<path d="M118.11,479.46 A62.1,62.1 0 0 1 112.54,477.35 L119.72,460.84 A44.1,44.1 0 0 0 123.67,462.34 Z" fill="#f21414" fill-opacity="0.21"/>
<path d="M111.55,476.91 A62.1,62.1 0 0 1 106.25,474.18 L115.25,458.59 A44.1,44.1 0 0 0 119.01,460.53 Z" fill="#f21414" fill-opacity="0.21"/>
<path d="M105.32,473.63 A62.1,62.1 0 0 1 100.36,470.32 L111.07,455.85 A44.1,44.1 0 0 0 114.59,458.20 Z" fill="#f21414" fill-opacity="0.21"/>
<path d="M99.07,469.34 A62.1,62.1 0 0 1 94.16,465.07 L106.67,452.12 A44.1,44.1 0 0 0 110.15,455.15 Z" fill="#f21414" fill-opacity="0.21"/>
<path d="M93.39,464.31 A62.1,62.1 0 0 1 89.04,459.48 L103.03,448.15 A44.1,44.1 0 0 0 106.12,451.58 Z" fill="#f21414" fill-opacity="0.21"/>
<path d="M88.70,459.06 A62.1,62.1 0 0 1 85.22,454.22 L100.31,444.42 A44.1,44.1 0 0 0 102.79,447.85 Z" fill="#f21414" fill-opacity="0.21"/>
<path d="M85.22,454.22 A62.1,62.1 0 0 1 82.47,449.55 L98.36,441.10 A44.1,44.1 0 0 0 100.31,444.42 Z" fill="#f21414" fill-opacity="0.21"/>
<path d="M82.22,449.07 A62.1,62.1 0 0 1 79.52,443.16 L96.27,436.56 A44.1,44.1 0 0 0 98.18,440.76 Z" fill="#f21414" fill-opacity="0.21"/>
<path d="M78.58,440.62 A62.1,62.1 0 0 1 76.67,433.84 L94.25,429.94 A44.1,44.1 0 0 0 95.60,434.76 Z" fill="#f21414" fill-opacity="0.21"/>
<path d="M86.33,446.37 A57.2,57.2 0 0 1 84.27,441.83 L89.55,439.69 A51.5,51.5 0 0 0 91.41,443.78 Z" fill="#f21414" fill-opacity="0.21"/>
<path d="M66.49,432.89 A71.9,71.9 0 0 1 65.61,425.92 L107.99,422.66 A29.4,29.4 0 0 0 108.35,425.51 Z" fill="#f21414" fill-opacity="0.21"/>
<path d="M65.61,425.92 A71.9,71.9 0 0 1 65.58,415.38 L107.97,418.35 A29.4,29.4 0 0 0 107.99,422.66 Z" fill="#f21414" fill-opacity="0.21"/>
<path d="M60.89,415.06 A76.6,76.6 0 0 1 123.34,345.08 L133.27,398.67 A22.1,22.1 0 0 0 115.25,418.86 Z" fill="#f21414" fill-opacity="0.21"/>
<path d="M65.58,415.38 A71.9,71.9 0 0 1 68.19,400.58 L109.04,412.30 A29.4,29.4 0 0 0 107.97,418.35 Z" fill="#f21414" fill-opacity="0.21"/>
<path d="M68.19,400.58 A71.9,71.9 0 0 1 73.24,387.76 L111.10,407.05 A29.4,29.4 0 0 0 109.04,412.30 Z" fill="#f21414" fill-opacity="0.21"/>
<path d="M73.24,387.76 A71.9,71.9 0 0 1 85.58,370.45 L116.15,399.98 A29.4,29.4 0 0 0 111.10,407.05 Z" fill="#f21414" fill-opacity="0.21"/>
<path d="M85.58,370.45 A71.9,71.9 0 0 1 116.28,351.64 L128.70,392.28 A29.4,29.4 0 0 0 116.15,399.98 Z" fill="#f21414" fill-opacity="0.21"/>
<path d="M70.67,413.40 A67.0,67.0 0 0 1 72.90,401.93 L101.93,410.26 A36.8,36.8 0 0 0 100.70,416.55 Z" fill="#f21414" fill-opacity="0.21"/>
<path d="M76.58,392.08 A67.0,67.0 0 0 1 80.17,385.39 L105.92,401.17 A36.8,36.8 0 0 0 103.95,404.85 Z" fill="#f21414" fill-opacity="0.21"/>
<path d="M80.17,385.39 A67.0,67.0 0 0 1 84.87,378.69 L108.50,397.49 A36.8,36.8 0 0 0 105.92,401.17 Z" fill="#f21414" fill-opacity="0.21"/>
<path d="M85.23,378.24 A67.0,67.0 0 0 1 90.76,372.20 L111.74,393.93 A36.8,36.8 0 0 0 108.70,397.24 Z" fill="#f21414" fill-opacity="0.21"/>
<path d="M93.34,369.83 A67.0,67.0 0 0 1 104.82,361.80 L119.46,388.21 A36.8,36.8 0 0 0 113.16,392.63 Z" fill="#f21414" fill-opacity="0.21"/>
<path d="M106.88,360.70 A67.0,67.0 0 0 1 116.60,356.68 L125.93,385.40 A36.8,36.8 0 0 0 120.59,387.61 Z" fill="#f21414" fill-opacity="0.21"/>
<path d="M75.39,415.53 A62.1,62.1 0 0 1 76.14,409.62 L93.87,412.74 A44.1,44.1 0 0 0 93.34,416.94 Z" fill="#f21414" fill-opacity="0.21"/>
<path d="M76.34,408.55 A62.1,62.1 0 0 1 77.91,402.24 L95.13,407.51 A44.1,44.1 0 0 0 94.01,411.99 Z" fill="#f21414" fill-opacity="0.21"/>
<path d="M81.48,393.18 A62.1,62.1 0 0 1 84.35,387.95 L99.70,397.36 A44.1,44.1 0 0 0 97.66,401.07 Z" fill="#f21414" fill-opacity="0.21"/>
<path d="M84.64,387.49 A62.1,62.1 0 0 1 88.36,382.17 L102.55,393.25 A44.1,44.1 0 0 0 99.90,397.03 Z" fill="#f21414" fill-opacity="0.21"/>
<path d="M89.38,380.90 A62.1,62.1 0 0 1 93.77,376.11 L106.39,388.95 A44.1,44.1 0 0 0 103.27,392.35 Z" fill="#f21414" fill-opacity="0.21"/>
<path d="M94.95,374.98 A62.1,62.1 0 0 1 99.50,371.13 L110.45,385.41 A44.1,44.1 0 0 0 107.22,388.15 Z" fill="#f21414" fill-opacity="0.21"/>
<path d="M99.50,371.13 A62.1,62.1 0 0 1 103.48,368.32 L113.28,383.41 A44.1,44.1 0 0 0 110.45,385.41 Z" fill="#f21414" fill-opacity="0.21"/>
<path d="M104.85,367.45 A62.1,62.1 0 0 1 110.08,364.58 L117.97,380.76 A44.1,44.1 0 0 0 114.26,382.80 Z" fill="#f21414" fill-opacity="0.21"/>
<path d="M118.11,361.34 A62.1,62.1 0 0 1 124.39,359.66 L128.13,377.26 A44.1,44.1 0 0 0 123.67,378.46 Z" fill="#f21414" fill-opacity="0.21"/>
<path d="M133.95,340.47 A80.0,80.0 0 0 1 146.63,340.95 L139.02,405.80 A14.7,14.7 0 0 0 136.68,405.71 Z" fill="#f21414" fill-opacity="0.21"/>
<path d="M134.09,343.87 A76.6,76.6 0 0 1 146.24,344.32 L139.88,398.45 A22.1,22.1 0 0 0 136.37,398.32 Z" fill="#f21414" fill-opacity="0.21"/>
<path d="M134.29,348.56 A71.9,71.9 0 0 1 145.69,348.99 L140.73,391.20 A29.4,29.4 0 0 0 136.07,391.03 Z" fill="#f21414" fill-opacity="0.21"/>
<path d="M134.73,353.45 A67.0,67.0 0 0 1 144.88,353.83 L141.47,383.84 A36.8,36.8 0 0 0 135.89,383.63 Z" fill="#f21414" fill-opacity="0.21"/>
<path d="M135.13,358.34 A62.1,62.1 0 0 1 144.11,358.68 L142.14,376.57 A44.1,44.1 0 0 0 135.76,376.33 Z" fill="#f21414" fill-opacity="0.21"/>
<path d="M144.77,363.69 A57.2,57.2 0 0 1 151.14,364.90 L149.76,370.43 A51.5,51.5 0 0 0 144.02,369.34 Z" fill="#00a000" fill-opacity="0.22"/>
<path d="M152.60,355.17 A67.0,67.0 0 0 1 160.76,357.64 L150.19,385.93 A36.8,36.8 0 0 0 145.70,384.57 Z" fill="#f21414" fill-opacity="0.21"/>
<path d="M152.32,360.14 A62.1,62.1 0 0 1 158.54,362.05 L152.38,378.96 A44.1,44.1 0 0 0 147.97,377.61 Z" fill="#f21414" fill-opacity="0.21"/>
<path d="M151.62,365.02 A57.2,57.2 0 0 1 156.39,366.48 L154.49,371.85 A51.5,51.5 0 0 0 150.19,370.54 Z" fill="#f21414" fill-opacity="0.21"/>
<path d="M161.31,357.85 A67.0,67.0 0 0 1 170.80,362.38 L155.70,388.53 A36.8,36.8 0 0 0 150.49,386.04 Z" fill="#f21414" fill-opacity="0.21"/>
<path d="M160.56,362.82 A62.1,62.1 0 0 1 167.41,366.09 L158.68,381.83 A44.1,44.1 0 0 0 153.82,379.51 Z" fill="#f21414" fill-opacity="0.21"/>
<path d="M164.23,353.74 A71.9,71.9 0 0 1 203.48,392.31 L164.36,408.91 A29.4,29.4 0 0 0 148.31,393.14 Z" fill="#f21414" fill-opacity="0.21"/>
<path d="M186.30,374.71 A67.0,67.0 0 0 1 191.50,381.02 L167.07,398.77 A36.8,36.8 0 0 0 164.21,395.30 Z" fill="#f21414" fill-opacity="0.21"/>
<path d="M191.50,381.02 A67.0,67.0 0 0 1 195.32,386.90 L169.17,402.00 A36.8,36.8 0 0 0 167.07,398.77 Z" fill="#f21414" fill-opacity="0.21"/>
<path d="M195.32,386.90 A67.0,67.0 0 0 1 198.97,394.22 L171.17,406.02 A36.8,36.8 0 0 0 169.17,402.00 Z" fill="#f21414" fill-opacity="0.21"/>
<path d="M168.35,366.62 A62.1,62.1 0 0 1 172.92,369.53 L162.59,384.28 A44.1,44.1 0 0 0 159.35,382.21 Z" fill="#f21414" fill-opacity="0.21"/>
<path d="M173.36,369.84 A62.1,62.1 0 0 1 177.63,373.18 L165.94,386.87 A44.1,44.1 0 0 0 162.91,384.50 Z" fill="#f21414" fill-opacity="0.21"/>
<path d="M178.45,373.89 A62.1,62.1 0 0 1 182.35,377.65 L169.29,390.04 A44.1,44.1 0 0 0 166.52,387.37 Z" fill="#f21414" fill-opacity="0.21"/>
<path d="M183.08,378.45 A62.1,62.1 0 0 1 186.90,383.03 L172.52,393.86 A44.1,44.1 0 0 0 169.81,390.61 Z" fill="#f21414" fill-opacity="0.21"/>
<path d="M187.86,384.34 A62.1,62.1 0 0 1 191.08,389.35 L175.49,398.35 A44.1,44.1 0 0 0 173.20,394.79 Z" fill="#f21414" fill-opacity="0.21"/>
<path d="M191.61,390.29 A62.1,62.1 0 0 1 194.46,396.14 L177.89,403.17 A44.1,44.1 0 0 0 175.87,399.02 Z" fill="#f21414" fill-opacity="0.21"/>
<path d="M208.07,391.09 A76.6,76.6 0 0 1 211.78,402.52 L158.79,415.24 A22.1,22.1 0 0 0 157.72,411.94 Z" fill="#f21414" fill-opacity="0.21"/>
<path d="M203.87,393.23 A71.9,71.9 0 0 1 207.12,403.25 L165.85,413.39 A29.4,29.4 0 0 0 164.52,409.29 Z" fill="#f21414" fill-opacity="0.21"/>
<path d="M199.42,395.30 A67.0,67.0 0 0 1 202.31,404.19 L173.01,411.50 A36.8,36.8 0 0 0 171.42,406.61 Z" fill="#f21414" fill-opacity="0.21"/>
<path d="M195.28,398.15 A62.1,62.1 0 0 1 197.42,404.85 L180.00,409.36 A44.1,44.1 0 0 0 178.47,404.60 Z" fill="#f21414" fill-opacity="0.21"/>
<path d="M202.66,405.67 A67.0,67.0 0 0 1 203.96,413.63 L173.91,416.68 A36.8,36.8 0 0 0 173.20,412.31 Z" fill="#00a000" fill-opacity="0.22"/>
<path d="M209.13,417.26 A71.9,71.9 0 0 1 209.19,419.40 L166.70,419.99 A29.4,29.4 0 0 0 166.67,419.12 Z" fill="#f21414" fill-opacity="0.21"/>
<path d="M217.22,423.89 A80.0,80.0 0 0 1 210.66,452.30 L150.78,426.26 A14.7,14.7 0 0 0 151.99,421.04 Z" fill="#f21414" fill-opacity="0.21"/>
<path d="M213.83,423.74 A76.6,76.6 0 0 1 211.62,438.93 L158.74,425.75 A22.1,22.1 0 0 0 159.38,421.36 Z" fill="#f21414" fill-opacity="0.21"/>
<path d="M209.10,424.16 A71.9,71.9 0 0 1 207.21,437.18 L165.89,427.26 A29.4,29.4 0 0 0 166.66,421.94 Z" fill="#f21414" fill-opacity="0.21"/>
<path d="M204.18,424.49 A67.0,67.0 0 0 1 202.58,435.47 L173.16,428.68 A36.8,36.8 0 0 0 174.03,422.65 Z" fill="#f21414" fill-opacity="0.21"/>
<path d="M199.25,424.73 A62.1,62.1 0 0 1 197.93,433.84 L180.35,429.94 A44.1,44.1 0 0 0 181.29,423.48 Z" fill="#f21414" fill-opacity="0.21"/>
<path d="M194.28,425.39 A57.2,57.2 0 0 1 193.25,432.29 L187.67,431.11 A51.5,51.5 0 0 0 188.60,424.89 Z" fill="#f21414" fill-opacity="0.21"/>
<path d="M211.62,438.93 A76.6,76.6 0 0 1 207.55,450.94 L157.57,429.21 A22.1,22.1 0 0 0 158.74,425.75 Z" fill="#f21414" fill-opacity="0.21"/>
<path d="M206.91,438.40 A71.9,71.9 0 0 1 203.48,448.49 L164.36,431.89 A29.4,29.4 0 0 0 165.76,427.76 Z" fill="#f21414" fill-opacity="0.21"/>
<path d="M202.02,437.74 A67.0,67.0 0 0 1 199.20,446.04 L171.30,434.48 A36.8,36.8 0 0 0 172.85,429.92 Z" fill="#f21414" fill-opacity="0.21"/>
<path d="M197.14,437.00 A62.1,62.1 0 0 1 194.88,443.66 L178.19,436.92 A44.1,44.1 0 0 0 179.80,432.19 Z" fill="#f21414" fill-opacity="0.21"/>
<path d="M202.20,451.35 A71.9,71.9 0 0 1 198.93,457.43 L162.50,435.54 A29.4,29.4 0 0 0 163.84,433.06 Z" fill="#00a000" fill-opacity="0.22"/>
<path d="M184.72,452.39 A57.2,57.2 0 0 1 182.07,456.01 L177.60,452.46 A51.5,51.5 0 0 0 180.00,449.20 Z" fill="#00a000" fill-opacity="0.22"/>
<path d="M185.22,459.90 A62.1,62.1 0 0 1 179.65,465.82 L167.38,452.65 A44.1,44.1 0 0 0 171.33,448.45 Z" fill="#f21414" fill-opacity="0.21"/>
<path d="M182.99,469.40 A67.0,67.0 0 0 1 176.68,474.60 L158.93,450.17 A36.8,36.8 0 0 0 162.40,447.31 Z" fill="#f21414" fill-opacity="0.21"/>
<path d="M179.25,466.18 A62.1,62.1 0 0 1 174.24,470.32 L163.53,455.85 A44.1,44.1 0 0 0 167.09,452.91 Z" fill="#f21414" fill-opacity="0.21"/>
<path d="M173.36,470.96 A62.1,62.1 0 0 1 167.88,474.45 L159.02,458.78 A44.1,44.1 0 0 0 162.91,456.30 Z" fill="#f21414" fill-opacity="0.21"/>
<path d="M170.11,467.26 A57.2,57.2 0 0 1 165.90,469.94 L163.05,465.00 A51.5,51.5 0 0 0 166.84,462.59 Z" fill="#f21414" fill-opacity="0.21"/>
<path d="M169.78,479.00 A67.0,67.0 0 0 1 161.86,482.74 L150.79,454.64 A36.8,36.8 0 0 0 155.14,452.59 Z" fill="#f21414" fill-opacity="0.21"/>
<path d="M163.07,487.52 A71.9,71.9 0 0 1 153.47,490.46 L143.91,449.05 A29.4,29.4 0 0 0 147.84,447.85 Z" fill="#f21414" fill-opacity="0.21"/>
<path d="M160.76,483.16 A67.0,67.0 0 0 1 152.94,485.55 L145.89,456.18 A36.8,36.8 0 0 0 150.19,454.87 Z" fill="#f21414" fill-opacity="0.21"/>
<path d="M150.74,481.03 A62.1,62.1 0 0 1 145.41,481.97 L143.06,464.12 A44.1,44.1 0 0 0 146.84,463.45 Z" fill="#f21414" fill-opacity="0.21"/>
<path d="M145.44,491.84 A71.9,71.9 0 0 1 136.67,492.30 L137.04,449.80 A29.4,29.4 0 0 0 140.63,449.61 Z" fill="#f21414" fill-opacity="0.21"/>
<path d="M144.30,487.03 A67.0,67.0 0 0 1 137.30,487.40 L137.30,457.20 A36.8,36.8 0 0 0 141.15,457.00 Z" fill="#f21414" fill-opacity="0.21"/>
<circle cx="137.3" cy="420.4" r="14.7" fill="#fff" stroke="#1a1a1a" stroke-width="1.0"/>
<line x1="130.00" y1="420.40" x2="122.60" y2="420.40" stroke="#7a7a7a" stroke-width="0.6"/>
<line x1="135.83" y1="435.03" x2="135.09" y2="442.34" stroke="#b41010" stroke-width="1.15"/>
<line x1="135.09" y1="442.34" x2="134.35" y2="449.65" stroke="#b41010" stroke-width="1.15"/>
<line x1="134.35" y1="449.65" x2="133.62" y2="456.97" stroke="#b41010" stroke-width="1.15"/>
<line x1="133.62" y1="456.97" x2="132.15" y2="471.59" stroke="#b41010" stroke-width="1.15"/>
<line x1="122.64" y1="419.36" x2="115.31" y2="418.84" stroke="#b41010" stroke-width="1.15"/>
<path d="M121.57,435.86 A22.05,22.05 0 0 1 134.80,398.49" fill="none" stroke="#1a1a1a" stroke-width="1.0"/>
<line x1="121.57" y1="435.86" x2="116.33" y2="441.01" stroke="#b41010" stroke-width="1.15"/>
<path d="M125.46,447.31 A29.4,29.4 0 0 1 110.99,433.52" fill="none" stroke="#1a1a1a" stroke-width="1.0"/>
<line x1="125.46" y1="447.31" x2="122.50" y2="454.04" stroke="#b41010" stroke-width="1.15"/>
<path d="M126.10,455.40 A36.75,36.75 0 0 1 118.65,452.06" fill="none" stroke="#b41010" stroke-width="1.2"/>
<line x1="117.92" y1="442.50" x2="113.07" y2="448.03" stroke="#b41010" stroke-width="1.15"/>
<line x1="110.99" y1="433.52" x2="104.41" y2="436.80" stroke="#b41010" stroke-width="1.15"/>
<path d="M107.47,441.87 A36.75,36.75 0 0 1 101.93,430.38" fill="none" stroke="#b41010" stroke-width="1.2"/>
<line x1="126.10" y1="455.40" x2="123.86" y2="462.40" stroke="#b41010" stroke-width="1.15"/>
<path d="M126.07,463.05 A44.1,44.1 0 0 1 121.68,461.64" fill="none" stroke="#b41010" stroke-width="1.2"/>
<line x1="118.65" y1="452.06" x2="114.92" y2="458.40" stroke="#b41010" stroke-width="1.15"/>
<path d="M117.11,459.61 A44.1,44.1 0 0 1 112.80,457.07" fill="none" stroke="#b41010" stroke-width="1.2"/>
<line x1="113.07" y1="448.03" x2="108.22" y2="453.56" stroke="#b41010" stroke-width="1.15"/>
<line x1="104.93" y1="437.79" x2="98.45" y2="441.27" stroke="#b41010" stroke-width="1.15"/>
<path d="M99.30,442.78 A44.1,44.1 0 0 1 97.17,438.69" fill="none" stroke="#b41010" stroke-width="1.2"/>
<line x1="126.07" y1="463.05" x2="124.20" y2="470.15" stroke="#b41010" stroke-width="1.15"/>
<line x1="121.68" y1="461.64" x2="119.07" y2="468.51" stroke="#b41010" stroke-width="1.15"/>
<line x1="117.11" y1="459.61" x2="113.74" y2="466.14" stroke="#b41010" stroke-width="1.15"/>
<line x1="112.80" y1="457.07" x2="108.72" y2="463.18" stroke="#b41010" stroke-width="1.15"/>
<line x1="108.37" y1="453.68" x2="103.55" y2="459.23" stroke="#b41010" stroke-width="1.15"/>
<line x1="104.53" y1="449.91" x2="99.07" y2="454.83" stroke="#b41010" stroke-width="1.15"/>
<line x1="101.51" y1="446.17" x2="95.54" y2="450.46" stroke="#b41010" stroke-width="1.15"/>
<line x1="99.30" y1="442.78" x2="92.97" y2="446.51" stroke="#b41010" stroke-width="1.15"/>
<line x1="97.17" y1="438.69" x2="90.48" y2="441.74" stroke="#b41010" stroke-width="1.15"/>
<line x1="94.86" y1="432.37" x2="87.78" y2="434.37" stroke="#b41010" stroke-width="1.15"/>
<line x1="108.13" y1="424.08" x2="86.26" y2="426.85" stroke="#7a7a7a" stroke-width="0.6"/>
<line x1="107.90" y1="420.50" x2="85.85" y2="420.58" stroke="#7a7a7a" stroke-width="0.6"/>
<line x1="120.85" y1="405.72" x2="115.37" y2="400.82" stroke="#b41010" stroke-width="1.15"/>
<path d="M108.35,415.29 A29.4,29.4 0 0 1 129.69,392.00" fill="none" stroke="#1a1a1a" stroke-width="1.0"/>
<line x1="108.35" y1="415.29" x2="101.11" y2="414.02" stroke="#b41010" stroke-width="1.15"/>
<path d="M101.11,414.02 A36.75,36.75 0 0 1 101.23,413.39" fill="none" stroke="#b41010" stroke-width="1.2"/>
<line x1="109.95" y1="409.62" x2="89.43" y2="401.54" stroke="#7a7a7a" stroke-width="0.6"/>
<line x1="113.37" y1="403.33" x2="107.38" y2="399.06" stroke="#b41010" stroke-width="1.15"/>
<path d="M104.93,403.01 A36.75,36.75 0 0 1 110.21,395.57" fill="none" stroke="#b41010" stroke-width="1.2"/>
<line x1="121.94" y1="395.33" x2="118.10" y2="389.07" stroke="#b41010" stroke-width="1.15"/>
<path d="M116.22,390.30 A36.75,36.75 0 0 1 123.24,386.45" fill="none" stroke="#b41010" stroke-width="1.2"/>
<line x1="101.23" y1="413.39" x2="94.01" y2="411.99" stroke="#b41010" stroke-width="1.15"/>
<path d="M93.55,414.83 A44.1,44.1 0 0 1 94.51,409.73" fill="none" stroke="#b41010" stroke-width="1.2"/>
<line x1="104.93" y1="403.01" x2="98.45" y2="399.53" stroke="#b41010" stroke-width="1.15"/>
<path d="M98.45,399.53 A44.1,44.1 0 0 1 98.64,399.19" fill="none" stroke="#b41010" stroke-width="1.2"/>
<line x1="107.20" y1="399.32" x2="101.18" y2="395.11" stroke="#b41010" stroke-width="1.15"/>
<line x1="110.21" y1="395.57" x2="104.79" y2="390.61" stroke="#b41010" stroke-width="1.15"/>
<line x1="116.22" y1="390.30" x2="112.01" y2="384.28" stroke="#b41010" stroke-width="1.15"/>
<path d="M108.81,386.74 A44.1,44.1 0 0 1 116.09,381.74" fill="none" stroke="#b41010" stroke-width="1.2"/>
<line x1="123.24" y1="386.45" x2="117.61" y2="372.87" stroke="#b41010" stroke-width="1.15"/>
<line x1="93.55" y1="414.83" x2="86.26" y2="413.91" stroke="#b41010" stroke-width="1.15"/>
<line x1="94.51" y1="409.73" x2="87.38" y2="407.95" stroke="#b41010" stroke-width="1.15"/>
<line x1="98.64" y1="399.19" x2="92.19" y2="395.65" stroke="#b41010" stroke-width="1.15"/>
<line x1="101.18" y1="395.11" x2="95.15" y2="390.89" stroke="#b41010" stroke-width="1.15"/>
<line x1="104.79" y1="390.61" x2="99.37" y2="385.64" stroke="#b41010" stroke-width="1.15"/>
<line x1="108.81" y1="386.74" x2="104.06" y2="381.13" stroke="#b41010" stroke-width="1.15"/>
<line x1="111.85" y1="384.39" x2="107.61" y2="378.38" stroke="#b41010" stroke-width="1.15"/>
<line x1="116.09" y1="381.74" x2="112.55" y2="375.29" stroke="#b41010" stroke-width="1.15"/>
<line x1="125.89" y1="377.80" x2="123.98" y2="370.70" stroke="#b41010" stroke-width="1.15"/>
<line x1="137.85" y1="405.71" x2="138.13" y2="398.37" stroke="#b41010" stroke-width="1.15"/>
<line x1="138.13" y1="398.37" x2="138.40" y2="391.02" stroke="#b41010" stroke-width="1.15"/>
<line x1="138.40" y1="391.02" x2="138.68" y2="383.68" stroke="#b41010" stroke-width="1.15"/>
<line x1="138.68" y1="383.68" x2="138.95" y2="376.33" stroke="#b41010" stroke-width="1.15"/>
<line x1="138.95" y1="376.33" x2="139.23" y2="368.99" stroke="#b41010" stroke-width="1.15"/>
<line x1="147.95" y1="385.23" x2="150.08" y2="378.19" stroke="#b41010" stroke-width="1.15"/>
<line x1="150.19" y1="378.23" x2="152.34" y2="371.20" stroke="#b41010" stroke-width="1.15"/>
<line x1="153.12" y1="387.23" x2="156.29" y2="380.60" stroke="#b41010" stroke-width="1.15"/>
<line x1="156.29" y1="380.60" x2="159.45" y2="373.96" stroke="#b41010" stroke-width="1.15"/>
<line x1="157.91" y1="399.43" x2="163.06" y2="394.19" stroke="#b41010" stroke-width="1.15"/>
<path d="M157.05,389.41 A36.75,36.75 0 0 1 170.19,404.00" fill="none" stroke="#b41010" stroke-width="1.2"/>
<line x1="165.66" y1="397.02" x2="171.33" y2="392.35" stroke="#b41010" stroke-width="1.15"/>
<line x1="168.12" y1="400.38" x2="174.29" y2="396.38" stroke="#b41010" stroke-width="1.15"/>
<line x1="170.19" y1="404.00" x2="176.77" y2="400.72" stroke="#b41010" stroke-width="1.15"/>
<path d="M176.77,400.72 A44.1,44.1 0 0 1 176.94,401.07" fill="none" stroke="#b41010" stroke-width="1.2"/>
<line x1="160.99" y1="383.21" x2="164.94" y2="377.01" stroke="#b41010" stroke-width="1.15"/>
<line x1="164.45" y1="385.65" x2="168.98" y2="379.86" stroke="#b41010" stroke-width="1.15"/>
<line x1="167.93" y1="388.68" x2="173.04" y2="383.39" stroke="#b41010" stroke-width="1.15"/>
<line x1="171.21" y1="392.20" x2="176.86" y2="387.50" stroke="#b41010" stroke-width="1.15"/>
<line x1="174.39" y1="396.54" x2="180.57" y2="392.57" stroke="#b41010" stroke-width="1.15"/>
<line x1="176.94" y1="401.07" x2="183.54" y2="397.85" stroke="#b41010" stroke-width="1.15"/>
<line x1="158.27" y1="413.59" x2="165.26" y2="411.31" stroke="#b41010" stroke-width="1.15"/>
<line x1="165.26" y1="411.31" x2="172.25" y2="409.04" stroke="#b41010" stroke-width="1.15"/>
<line x1="172.25" y1="409.04" x2="179.24" y2="406.77" stroke="#b41010" stroke-width="1.15"/>
<line x1="179.30" y1="406.96" x2="186.30" y2="404.71" stroke="#b41010" stroke-width="1.15"/>
<line x1="173.57" y1="414.49" x2="188.08" y2="412.13" stroke="#007000" stroke-width="1.15"/>
<line x1="166.69" y1="419.55" x2="174.03" y2="419.34" stroke="#7a7a7a" stroke-width="0.6"/>
<line x1="151.62" y1="423.71" x2="158.78" y2="425.36" stroke="#b41010" stroke-width="1.15"/>
<path d="M159.12,423.56 A22.05,22.05 0 0 1 158.18,427.49" fill="none" stroke="#1a1a1a" stroke-width="1.0"/>
<line x1="159.12" y1="423.56" x2="166.40" y2="424.62" stroke="#b41010" stroke-width="1.15"/>
<line x1="166.40" y1="424.62" x2="173.67" y2="425.67" stroke="#b41010" stroke-width="1.15"/>
<line x1="173.67" y1="425.67" x2="180.94" y2="426.73" stroke="#b41010" stroke-width="1.15"/>
<line x1="180.94" y1="426.73" x2="188.22" y2="427.78" stroke="#b41010" stroke-width="1.15"/>
<line x1="158.18" y1="427.49" x2="165.14" y2="429.85" stroke="#b41010" stroke-width="1.15"/>
<line x1="165.14" y1="429.85" x2="172.10" y2="432.21" stroke="#b41010" stroke-width="1.15"/>
<line x1="172.10" y1="432.21" x2="179.06" y2="434.58" stroke="#b41010" stroke-width="1.15"/>
<line x1="179.06" y1="434.58" x2="186.02" y2="436.94" stroke="#b41010" stroke-width="1.15"/>
<line x1="163.20" y1="434.32" x2="182.62" y2="444.75" stroke="#7a7a7a" stroke-width="0.6"/>
<line x1="169.42" y1="450.62" x2="174.77" y2="455.65" stroke="#b41010" stroke-width="1.15"/>
<line x1="160.68" y1="448.76" x2="165.35" y2="454.43" stroke="#b41010" stroke-width="1.15"/>
<line x1="165.35" y1="454.43" x2="170.03" y2="460.10" stroke="#b41010" stroke-width="1.15"/>
<line x1="160.99" y1="457.59" x2="164.94" y2="463.79" stroke="#b41010" stroke-width="1.15"/>
<line x1="152.98" y1="453.64" x2="159.25" y2="466.93" stroke="#b41010" stroke-width="1.15"/>
<line x1="145.90" y1="448.52" x2="148.04" y2="455.54" stroke="#b41010" stroke-width="1.15"/>
<line x1="148.04" y1="455.54" x2="152.34" y2="469.60" stroke="#b41010" stroke-width="1.15"/>
<line x1="144.96" y1="463.83" x2="146.23" y2="471.07" stroke="#b41010" stroke-width="1.15"/>
<line x1="138.84" y1="449.76" x2="139.22" y2="457.10" stroke="#b41010" stroke-width="1.15"/>
<line x1="139.22" y1="457.10" x2="139.99" y2="471.78" stroke="#b41010" stroke-width="1.15"/>
<line x1="133.21" y1="391.29" x2="130.14" y2="369.45" stroke="#7a7a7a" stroke-width="0.6"/>
<line x1="134.10" y1="383.79" x2="132.82" y2="369.15" stroke="#7a7a7a" stroke-width="0.6"/>
<line x1="145.34" y1="377.04" x2="146.68" y2="369.81" stroke="#7a7a7a" stroke-width="0.6"/>
<line x1="147.43" y1="385.07" x2="151.48" y2="370.94" stroke="#7a7a7a" stroke-width="0.6"/>
<line x1="150.19" y1="393.98" x2="153.41" y2="387.37" stroke="#7a7a7a" stroke-width="0.6"/>
<path d="M153.12,387.23 A36.75,36.75 0 0 1 153.41,387.37" fill="none" stroke="#1a1a1a" stroke-width="1.0"/>
<line x1="140.75" y1="398.62" x2="145.35" y2="369.58" stroke="#7a7a7a" stroke-width="0.6"/>
<line x1="171.08" y1="448.75" x2="176.71" y2="453.47" stroke="#7a7a7a" stroke-width="0.6"/>
<line x1="168.12" y1="440.42" x2="180.45" y2="448.42" stroke="#7a7a7a" stroke-width="0.6"/>
<line x1="181.40" y1="420.78" x2="188.75" y2="420.85" stroke="#7a7a7a" stroke-width="0.6"/>
<line x1="174.03" y1="419.31" x2="188.73" y2="418.87" stroke="#7a7a7a" stroke-width="0.6"/>
<line x1="166.61" y1="418.09" x2="188.59" y2="416.36" stroke="#7a7a7a" stroke-width="0.6"/>
<line x1="160.67" y1="457.80" x2="164.56" y2="464.03" stroke="#7a7a7a" stroke-width="0.6"/>
<path d="M164.94,463.79 A51.45,51.45 0 0 1 164.56,464.03" fill="none" stroke="#1a1a1a" stroke-width="1.0"/>
<line x1="115.30" y1="421.82" x2="107.96" y2="422.30" stroke="#7a7a7a" stroke-width="0.6"/>
<path d="M108.13,424.08 A29.4,29.4 0 0 1 107.90,420.50" fill="none" stroke="#1a1a1a" stroke-width="1.0"/>
<line x1="134.80" y1="398.49" x2="133.97" y2="391.19" stroke="#7a7a7a" stroke-width="0.6"/>
<path d="M133.21,391.29 A29.4,29.4 0 0 1 134.74,391.11" fill="none" stroke="#1a1a1a" stroke-width="1.0"/>
<line x1="139.79" y1="405.91" x2="141.03" y2="398.67" stroke="#7a7a7a" stroke-width="0.6"/>
<path d="M140.75,398.62 A22.05,22.05 0 0 1 141.32,398.72" fill="none" stroke="#1a1a1a" stroke-width="1.0"/>
<line x1="141.32" y1="398.72" x2="142.66" y2="391.49" stroke="#7a7a7a" stroke-width="0.6"/>
<line x1="144.42" y1="407.54" x2="147.98" y2="401.11" stroke="#7a7a7a" stroke-width="0.6"/>
<line x1="147.98" y1="401.11" x2="151.54" y2="394.68" stroke="#7a7a7a" stroke-width="0.6"/>
<path d="M145.61,392.20 A29.4,29.4 0 0 1 157.91,399.43" fill="none" stroke="#1a1a1a" stroke-width="1.0"/>
<line x1="151.28" y1="415.86" x2="158.27" y2="413.59" stroke="#7a7a7a" stroke-width="0.6"/>
<line x1="151.94" y1="419.08" x2="159.26" y2="418.43" stroke="#7a7a7a" stroke-width="0.6"/>
<line x1="159.26" y1="418.43" x2="166.58" y2="417.77" stroke="#7a7a7a" stroke-width="0.6"/>
<path d="M166.32,415.67 A29.4,29.4 0 0 1 166.69,419.55" fill="none" stroke="#1a1a1a" stroke-width="1.0"/>
<line x1="149.72" y1="428.27" x2="155.92" y2="432.21" stroke="#7a7a7a" stroke-width="0.6"/>
<line x1="155.92" y1="432.21" x2="162.13" y2="436.14" stroke="#7a7a7a" stroke-width="0.6"/>
<path d="M163.20,434.32 A29.4,29.4 0 0 1 161.12,437.63" fill="none" stroke="#1a1a1a" stroke-width="1.0"/>
<line x1="143.96" y1="433.51" x2="147.29" y2="440.06" stroke="#7a7a7a" stroke-width="0.6"/>
<path d="M151.49,437.28 A22.05,22.05 0 0 1 142.56,441.81" fill="none" stroke="#1a1a1a" stroke-width="1.0"/>
<line x1="151.49" y1="437.28" x2="156.21" y2="442.91" stroke="#7a7a7a" stroke-width="0.6"/>
<path d="M159.28,439.93 A29.4,29.4 0 0 1 152.99,445.26" fill="none" stroke="#1a1a1a" stroke-width="1.0"/>
<line x1="142.56" y1="441.81" x2="144.32" y2="448.95" stroke="#7a7a7a" stroke-width="0.6"/>
<path d="M149.84,446.99 A29.4,29.4 0 0 1 138.84,449.76" fill="none" stroke="#1a1a1a" stroke-width="1.0"/>
<line x1="173.03" y1="446.24" x2="178.99" y2="450.55" stroke="#7a7a7a" stroke-width="0.6"/>
<path d="M179.19,450.28 A51.45,51.45 0 0 1 178.79,450.82" fill="none" stroke="#1a1a1a" stroke-width="1.0"/>
<line x1="109.99" y1="444.99" x2="104.53" y2="449.91" stroke="#7a7a7a" stroke-width="0.6"/>
<line x1="107.47" y1="441.87" x2="101.51" y2="446.17" stroke="#7a7a7a" stroke-width="0.6"/>
<line x1="101.93" y1="430.38" x2="94.86" y2="432.37" stroke="#7a7a7a" stroke-width="0.6"/>
<line x1="127.79" y1="384.90" x2="125.89" y2="377.80" stroke="#7a7a7a" stroke-width="0.6"/>
<line x1="157.05" y1="389.41" x2="160.99" y2="383.21" stroke="#7a7a7a" stroke-width="0.6"/>
<line x1="159.93" y1="391.44" x2="164.45" y2="385.65" stroke="#7a7a7a" stroke-width="0.6"/>
<line x1="162.83" y1="393.96" x2="167.93" y2="388.68" stroke="#7a7a7a" stroke-width="0.6"/>
<line x1="164.77" y1="444.81" x2="170.27" y2="449.69" stroke="#7a7a7a" stroke-width="0.6"/>
<path d="M171.08,448.75 A44.1,44.1 0 0 1 169.42,450.62" fill="none" stroke="#1a1a1a" stroke-width="1.0"/>
<line x1="156.91" y1="451.48" x2="160.83" y2="457.70" stroke="#7a7a7a" stroke-width="0.6"/>
<path d="M160.99,457.59 A44.1,44.1 0 0 1 160.67,457.80" fill="none" stroke="#1a1a1a" stroke-width="1.0"/>
<line x1="143.68" y1="456.59" x2="144.96" y2="463.83" stroke="#7a7a7a" stroke-width="0.6"/>
<line x1="144.00" y1="384.27" x2="145.34" y2="377.04" stroke="#7a7a7a" stroke-width="0.6"/>
<line x1="174.05" y1="420.72" x2="181.40" y2="420.78" stroke="#7a7a7a" stroke-width="0.6"/>
<line x1="167.08" y1="441.94" x2="173.03" y2="446.24" stroke="#7a7a7a" stroke-width="0.6"/>
<line x1="145.61" y1="392.20" x2="147.69" y2="385.15" stroke="#7a7a7a" stroke-width="0.6"/>
<path d="M147.43,385.07 A36.75,36.75 0 0 1 147.95,385.23" fill="none" stroke="#1a1a1a" stroke-width="1.0"/>
<line x1="166.32" y1="415.67" x2="173.57" y2="414.49" stroke="#7a7a7a" stroke-width="0.6"/>
<line x1="156.00" y1="443.09" x2="160.68" y2="448.76" stroke="#7a7a7a" stroke-width="0.6"/>
<line x1="149.84" y1="446.99" x2="152.98" y2="453.64" stroke="#7a7a7a" stroke-width="0.6"/>
<line x1="134.74" y1="391.11" x2="134.10" y2="383.79" stroke="#7a7a7a" stroke-width="0.6"/>
<line x1="161.96" y1="436.41" x2="168.12" y2="440.42" stroke="#7a7a7a" stroke-width="0.6"/>
<line x1="115.45" y1="440.07" x2="109.99" y2="444.99" stroke="#7a7a7a" stroke-width="0.6"/>
<line x1="129.69" y1="392.00" x2="127.79" y2="384.90" stroke="#7a7a7a" stroke-width="0.6"/>
<line x1="159.28" y1="439.93" x2="164.77" y2="444.81" stroke="#7a7a7a" stroke-width="0.6"/>
<line x1="152.99" y1="445.26" x2="156.91" y2="451.48" stroke="#7a7a7a" stroke-width="0.6"/>
<line x1="142.41" y1="449.35" x2="143.68" y2="456.59" stroke="#7a7a7a" stroke-width="0.6"/>
<line x1="142.66" y1="391.49" x2="144.00" y2="384.27" stroke="#7a7a7a" stroke-width="0.6"/>
<line x1="166.70" y1="420.66" x2="174.05" y2="420.72" stroke="#7a7a7a" stroke-width="0.6"/>
<line x1="161.12" y1="437.63" x2="167.08" y2="441.94" stroke="#7a7a7a" stroke-width="0.6"/>
<line x1="159.35" y1="420.59" x2="166.70" y2="420.66" stroke="#7a7a7a" stroke-width="0.6"/>
<line x1="152.00" y1="420.53" x2="159.35" y2="420.59" stroke="#7a7a7a" stroke-width="0.6"/>
<circle cx="135.83" cy="435.03" r="1.0" fill="#8a0000"/>
<circle cx="135.09" cy="442.34" r="1.0" fill="#8a0000"/>
<circle cx="134.35" cy="449.65" r="1.0" fill="#8a0000"/>
<circle cx="133.62" cy="456.97" r="1.0" fill="#8a0000"/>
<circle cx="122.64" cy="419.36" r="1.0" fill="#8a0000"/>
<circle cx="121.57" cy="435.86" r="1.0" fill="#8a0000"/>
<circle cx="125.46" cy="447.31" r="1.0" fill="#8a0000"/>
<circle cx="117.92" cy="442.50" r="1.0" fill="#8a0000"/>
<circle cx="110.99" cy="433.52" r="1.0" fill="#8a0000"/>
<circle cx="126.10" cy="455.40" r="1.0" fill="#8a0000"/>
<circle cx="118.65" cy="452.06" r="1.0" fill="#8a0000"/>
<circle cx="113.07" cy="448.03" r="1.0" fill="#8a0000"/>
<circle cx="104.93" cy="437.79" r="1.0" fill="#8a0000"/>
<circle cx="126.07" cy="463.05" r="1.0" fill="#8a0000"/>
<circle cx="121.68" cy="461.64" r="1.0" fill="#8a0000"/>
<circle cx="117.11" cy="459.61" r="1.0" fill="#8a0000"/>
<circle cx="112.80" cy="457.07" r="1.0" fill="#8a0000"/>
<circle cx="108.37" cy="453.68" r="1.0" fill="#8a0000"/>
<circle cx="104.53" cy="449.91" r="1.0" fill="#8a0000"/>
<circle cx="101.51" cy="446.17" r="1.0" fill="#8a0000"/>
<circle cx="99.30" cy="442.78" r="1.0" fill="#8a0000"/>
<circle cx="97.17" cy="438.69" r="1.0" fill="#8a0000"/>
<circle cx="94.86" cy="432.37" r="1.0" fill="#8a0000"/>
<circle cx="90.48" cy="441.74" r="1.0" fill="#8a0000"/>
<circle cx="108.13" cy="424.08" r="1.0" fill="#8a0000"/>
<circle cx="107.90" cy="420.50" r="1.0" fill="#8a0000"/>
<circle cx="120.85" cy="405.72" r="1.0" fill="#8a0000"/>
<circle cx="108.35" cy="415.29" r="1.0" fill="#8a0000"/>
<circle cx="109.95" cy="409.62" r="1.0" fill="#8a0000"/>
<circle cx="113.37" cy="403.33" r="1.0" fill="#8a0000"/>
<circle cx="121.94" cy="395.33" r="1.0" fill="#8a0000"/>
<circle cx="101.23" cy="413.39" r="1.0" fill="#8a0000"/>
<circle cx="104.93" cy="403.01" r="1.0" fill="#8a0000"/>
<circle cx="107.20" cy="399.32" r="1.0" fill="#8a0000"/>
<circle cx="110.21" cy="395.57" r="1.0" fill="#8a0000"/>
<circle cx="116.22" cy="390.30" r="1.0" fill="#8a0000"/>
<circle cx="123.24" cy="386.45" r="1.0" fill="#8a0000"/>
<circle cx="93.55" cy="414.83" r="1.0" fill="#8a0000"/>
<circle cx="94.51" cy="409.73" r="1.0" fill="#8a0000"/>
<circle cx="98.64" cy="399.19" r="1.0" fill="#8a0000"/>
<circle cx="101.18" cy="395.11" r="1.0" fill="#8a0000"/>
<circle cx="104.79" cy="390.61" r="1.0" fill="#8a0000"/>
<circle cx="108.81" cy="386.74" r="1.0" fill="#8a0000"/>
<circle cx="111.85" cy="384.39" r="1.0" fill="#8a0000"/>
<circle cx="116.09" cy="381.74" r="1.0" fill="#8a0000"/>
<circle cx="125.89" cy="377.80" r="1.0" fill="#8a0000"/>
<circle cx="137.85" cy="405.71" r="1.0" fill="#8a0000"/>
<circle cx="138.13" cy="398.37" r="1.0" fill="#8a0000"/>
<circle cx="138.40" cy="391.02" r="1.0" fill="#8a0000"/>
<circle cx="138.68" cy="383.68" r="1.0" fill="#8a0000"/>
<circle cx="138.95" cy="376.33" r="1.0" fill="#8a0000"/>
<circle cx="146.90" cy="369.85" r="1.0" fill="#005000"/>
<circle cx="147.95" cy="385.23" r="1.0" fill="#8a0000"/>
<circle cx="150.19" cy="378.23" r="1.0" fill="#8a0000"/>
<circle cx="152.34" cy="371.20" r="1.0" fill="#8a0000"/>
<circle cx="153.12" cy="387.23" r="1.0" fill="#8a0000"/>
<circle cx="156.29" cy="380.60" r="1.0" fill="#8a0000"/>
<circle cx="157.91" cy="399.43" r="1.0" fill="#8a0000"/>
<circle cx="165.66" cy="397.02" r="1.0" fill="#8a0000"/>
<circle cx="168.12" cy="400.38" r="1.0" fill="#8a0000"/>
<circle cx="170.19" cy="404.00" r="1.0" fill="#8a0000"/>
<circle cx="160.99" cy="383.21" r="1.0" fill="#8a0000"/>
<circle cx="164.45" cy="385.65" r="1.0" fill="#8a0000"/>
<circle cx="167.93" cy="388.68" r="1.0" fill="#8a0000"/>
<circle cx="171.21" cy="392.20" r="1.0" fill="#8a0000"/>
<circle cx="174.39" cy="396.54" r="1.0" fill="#8a0000"/>
<circle cx="176.94" cy="401.07" r="1.0" fill="#8a0000"/>
<circle cx="158.27" cy="413.59" r="1.0" fill="#8a0000"/>
<circle cx="165.26" cy="411.31" r="1.0" fill="#8a0000"/>
<circle cx="172.25" cy="409.04" r="1.0" fill="#8a0000"/>
<circle cx="179.30" cy="406.96" r="1.0" fill="#8a0000"/>
<circle cx="173.57" cy="414.49" r="1.0" fill="#005000"/>
<circle cx="166.69" cy="419.55" r="1.0" fill="#8a0000"/>
<circle cx="151.62" cy="423.71" r="1.0" fill="#8a0000"/>
<circle cx="159.12" cy="423.56" r="1.0" fill="#8a0000"/>
<circle cx="166.40" cy="424.62" r="1.0" fill="#8a0000"/>
<circle cx="173.67" cy="425.67" r="1.0" fill="#8a0000"/>
<circle cx="180.94" cy="426.73" r="1.0" fill="#8a0000"/>
<circle cx="188.18" cy="428.00" r="1.0" fill="#8a0000"/>
<circle cx="158.18" cy="427.49" r="1.0" fill="#8a0000"/>
<circle cx="165.14" cy="429.85" r="1.0" fill="#8a0000"/>
<circle cx="172.10" cy="432.21" r="1.0" fill="#8a0000"/>
<circle cx="179.06" cy="434.58" r="1.0" fill="#8a0000"/>
<circle cx="163.20" cy="434.32" r="1.0" fill="#005000"/>
<circle cx="178.79" cy="450.82" r="1.0" fill="#005000"/>
<circle cx="169.42" cy="450.62" r="1.0" fill="#8a0000"/>
<circle cx="160.68" cy="448.76" r="1.0" fill="#8a0000"/>
<circle cx="165.35" cy="454.43" r="1.0" fill="#8a0000"/>
<circle cx="160.99" cy="457.59" r="1.0" fill="#8a0000"/>
<circle cx="164.94" cy="463.79" r="1.0" fill="#8a0000"/>
<circle cx="152.98" cy="453.64" r="1.0" fill="#8a0000"/>
<circle cx="145.90" cy="448.52" r="1.0" fill="#8a0000"/>
<circle cx="148.04" cy="455.54" r="1.0" fill="#8a0000"/>
<circle cx="144.96" cy="463.83" r="1.0" fill="#8a0000"/>
<circle cx="138.84" cy="449.76" r="1.0" fill="#8a0000"/>
<circle cx="139.22" cy="457.10" r="1.0" fill="#8a0000"/>
<circle cx="133.21" cy="391.29" r="0.75" fill="#c8c810"/>
<circle cx="134.10" cy="383.79" r="0.75" fill="#c8c810"/>
<circle cx="145.34" cy="377.04" r="0.75" fill="#c8c810"/>
<circle cx="147.43" cy="385.07" r="0.75" fill="#c8c810"/>
<circle cx="150.19" cy="393.98" r="0.75" fill="#c8c810"/>
<circle cx="140.75" cy="398.62" r="0.75" fill="#c8c810"/>
<circle cx="171.08" cy="448.75" r="0.75" fill="#c8c810"/>
<circle cx="168.12" cy="440.42" r="0.75" fill="#c8c810"/>
<circle cx="179.19" cy="450.28" r="0.75" fill="#c8c810"/>
<circle cx="181.40" cy="420.78" r="0.75" fill="#c8c810"/>
<circle cx="174.03" cy="419.31" r="0.75" fill="#c8c810"/>
<circle cx="166.61" cy="418.09" r="0.75" fill="#c8c810"/>
<circle cx="160.67" cy="457.80" r="0.75" fill="#c8c810"/>
<circle cx="115.30" cy="421.82" r="0.75" fill="#c8c810"/>
<circle cx="134.80" cy="398.49" r="0.75" fill="#c8c810"/>
<circle cx="139.79" cy="405.91" r="0.75" fill="#c8c810"/>
<circle cx="141.32" cy="398.72" r="0.75" fill="#c8c810"/>
<circle cx="144.42" cy="407.54" r="0.75" fill="#c8c810"/>
<circle cx="147.98" cy="401.11" r="0.75" fill="#c8c810"/>
<circle cx="151.28" cy="415.86" r="0.75" fill="#c8c810"/>
<circle cx="151.94" cy="419.08" r="0.75" fill="#c8c810"/>
<circle cx="159.26" cy="418.43" r="0.75" fill="#c8c810"/>
<circle cx="149.72" cy="428.27" r="0.75" fill="#c8c810"/>
<circle cx="155.92" cy="432.21" r="0.75" fill="#c8c810"/>
<circle cx="143.96" cy="433.51" r="0.75" fill="#c8c810"/>
<circle cx="151.49" cy="437.28" r="0.75" fill="#c8c810"/>
<circle cx="142.56" cy="441.81" r="0.75" fill="#c8c810"/>
<circle cx="173.03" cy="446.24" r="0.75" fill="#c8c810"/>
<circle cx="109.99" cy="444.99" r="0.75" fill="#c8c810"/>
<circle cx="107.47" cy="441.87" r="0.75" fill="#c8c810"/>
<circle cx="101.93" cy="430.38" r="0.75" fill="#c8c810"/>
<circle cx="127.79" cy="384.90" r="0.75" fill="#c8c810"/>
<circle cx="157.05" cy="389.41" r="0.75" fill="#c8c810"/>
<circle cx="159.93" cy="391.44" r="0.75" fill="#c8c810"/>
<circle cx="162.83" cy="393.96" r="0.75" fill="#c8c810"/>
<circle cx="164.77" cy="444.81" r="0.75" fill="#c8c810"/>
<circle cx="156.91" cy="451.48" r="0.75" fill="#c8c810"/>
<circle cx="143.68" cy="456.59" r="0.75" fill="#c8c810"/>
<circle cx="144.00" cy="384.27" r="0.75" fill="#c8c810"/>
<circle cx="174.05" cy="420.72" r="0.75" fill="#c8c810"/>
<circle cx="167.08" cy="441.94" r="0.75" fill="#c8c810"/>
<circle cx="145.61" cy="392.20" r="0.75" fill="#c8c810"/>
<circle cx="166.32" cy="415.67" r="0.75" fill="#c8c810"/>
<circle cx="156.00" cy="443.09" r="0.75" fill="#c8c810"/>
<circle cx="149.84" cy="446.99" r="0.75" fill="#c8c810"/>
<circle cx="134.74" cy="391.11" r="0.75" fill="#c8c810"/>
<circle cx="161.96" cy="436.41" r="0.75" fill="#c8c810"/>
<circle cx="115.45" cy="440.07" r="0.75" fill="#c8c810"/>
<circle cx="129.69" cy="392.00" r="0.75" fill="#c8c810"/>
<circle cx="159.28" cy="439.93" r="0.75" fill="#c8c810"/>
<circle cx="152.99" cy="445.26" r="0.75" fill="#c8c810"/>
<circle cx="142.41" cy="449.35" r="0.75" fill="#c8c810"/>
<circle cx="142.66" cy="391.49" r="0.75" fill="#c8c810"/>
<circle cx="166.70" cy="420.66" r="0.75" fill="#c8c810"/>
<circle cx="161.12" cy="437.63" r="0.75" fill="#c8c810"/>
<circle cx="159.35" cy="420.59" r="0.75" fill="#c8c810"/>
<circle cx="152.00" cy="420.53" r="0.75" fill="#c8c810"/>
<text x="129.87" y="494.93" font-size="2.8" fill="#3a1818" stroke="#3a1818" stroke-width="0.06" text-anchor="middle">a0</text>
<text x="130.34" y="490.25" font-size="2.8" fill="#3a1818" stroke="#3a1818" stroke-width="0.06" text-anchor="middle">a1</text>
<text x="130.83" y="485.38" font-size="2.8" fill="#3a1818" stroke="#3a1818" stroke-width="0.06" text-anchor="middle">a2</text>
<text x="84.41" y="473.12" font-size="2.8" fill="#3a1818" stroke="#3a1818" stroke-width="0.06" text-anchor="middle">a3</text>
<text x="109.33" y="484.72" font-size="2.8" fill="#3a1818" stroke="#3a1818" stroke-width="0.06" text-anchor="middle">a4</text>
<text x="91.51" y="473.37" font-size="2.8" fill="#3a1818" stroke="#3a1818" stroke-width="0.06" text-anchor="middle">a5</text>
<text x="75.15" y="452.14" font-size="2.8" fill="#3a1818" stroke="#3a1818" stroke-width="0.06" text-anchor="middle">a6</text>
<text x="117.62" y="482.63" font-size="2.8" fill="#3a1818" stroke="#3a1818" stroke-width="0.06" text-anchor="middle">a7</text>
<text x="104.54" y="476.77" font-size="2.8" fill="#3a1818" stroke="#3a1818" stroke-width="0.06" text-anchor="middle">a8</text>
<text x="94.74" y="469.68" font-size="2.8" fill="#3a1818" stroke="#3a1818" stroke-width="0.06" text-anchor="middle">a9</text>
<text x="80.44" y="451.70" font-size="2.8" fill="#3a1818" stroke="#3a1818" stroke-width="0.06" text-anchor="middle">b0</text>
<text x="122.11" y="478.83" font-size="2.8" fill="#3a1818" stroke="#3a1818" stroke-width="0.06" text-anchor="middle">b1</text>
<text x="116.17" y="476.93" font-size="2.8" fill="#3a1818" stroke="#3a1818" stroke-width="0.06" text-anchor="middle">b2</text>
<text x="109.99" y="474.18" font-size="2.8" fill="#3a1818" stroke="#3a1818" stroke-width="0.06" text-anchor="middle">b3</text>
<text x="104.16" y="470.75" font-size="2.8" fill="#3a1818" stroke="#3a1818" stroke-width="0.06" text-anchor="middle">b4</text>
<text x="98.17" y="466.17" font-size="2.8" fill="#3a1818" stroke="#3a1818" stroke-width="0.06" text-anchor="middle">b5</text>
<text x="92.97" y="461.06" font-size="2.8" fill="#3a1818" stroke="#3a1818" stroke-width="0.06" text-anchor="middle">b6</text>
<text x="88.89" y="456.00" font-size="2.8" fill="#3a1818" stroke="#3a1818" stroke-width="0.06" text-anchor="middle">b7</text>
<text x="85.90" y="451.42" font-size="2.8" fill="#3a1818" stroke="#3a1818" stroke-width="0.06" text-anchor="middle">b8</text>
<text x="83.02" y="445.89" font-size="2.8" fill="#3a1818" stroke="#3a1818" stroke-width="0.06" text-anchor="middle">b9</text>
<text x="79.89" y="437.34" font-size="2.8" fill="#3a1818" stroke="#3a1818" stroke-width="0.06" text-anchor="middle">c0</text>
<text x="87.48" y="443.85" font-size="2.8" fill="#3a1818" stroke="#3a1818" stroke-width="0.06" text-anchor="middle">c1</text>
<text x="68.40" y="429.85" font-size="2.8" fill="#3a1818" stroke="#3a1818" stroke-width="0.06" text-anchor="middle">c2</text>
<text x="67.85" y="421.39" font-size="2.8" fill="#3a1818" stroke="#3a1818" stroke-width="0.06" text-anchor="middle">c3</text>
<text x="81.98" y="371.77" font-size="2.8" fill="#3a1818" stroke="#3a1818" stroke-width="0.06" text-anchor="middle">c4</text>
<text x="68.91" y="409.09" font-size="2.8" fill="#3a1818" stroke="#3a1818" stroke-width="0.06" text-anchor="middle">c5</text>
<text x="72.68" y="395.70" font-size="2.8" fill="#3a1818" stroke="#3a1818" stroke-width="0.06" text-anchor="middle">c6</text>
<text x="80.76" y="380.82" font-size="2.8" fill="#3a1818" stroke="#3a1818" stroke-width="0.06" text-anchor="middle">c7</text>
<text x="101.01" y="361.93" font-size="2.8" fill="#3a1818" stroke="#3a1818" stroke-width="0.06" text-anchor="middle">c8</text>
<text x="73.94" y="408.83" font-size="2.8" fill="#3a1818" stroke="#3a1818" stroke-width="0.06" text-anchor="middle">c9</text>
<text x="80.44" y="390.60" font-size="2.8" fill="#3a1818" stroke="#3a1818" stroke-width="0.06" text-anchor="middle">d0</text>
<text x="84.42" y="384.13" font-size="2.8" fill="#3a1818" stroke="#3a1818" stroke-width="0.06" text-anchor="middle">d1</text>
<text x="89.71" y="377.54" font-size="2.8" fill="#3a1818" stroke="#3a1818" stroke-width="0.06" text-anchor="middle">d2</text>
<text x="100.28" y="368.27" font-size="2.8" fill="#3a1818" stroke="#3a1818" stroke-width="0.06" text-anchor="middle">d3</text>
<text x="112.60" y="361.51" font-size="2.8" fill="#3a1818" stroke="#3a1818" stroke-width="0.06" text-anchor="middle">d4</text>
<text x="78.13" y="413.62" font-size="2.8" fill="#3a1818" stroke="#3a1818" stroke-width="0.06" text-anchor="middle">d5</text>
<text x="79.42" y="406.72" font-size="2.8" fill="#3a1818" stroke="#3a1818" stroke-width="0.06" text-anchor="middle">d6</text>
<text x="85.00" y="392.46" font-size="2.8" fill="#3a1818" stroke="#3a1818" stroke-width="0.06" text-anchor="middle">d7</text>
<text x="88.44" y="386.94" font-size="2.8" fill="#3a1818" stroke="#3a1818" stroke-width="0.06" text-anchor="middle">d8</text>
<text x="93.32" y="380.85" font-size="2.8" fill="#3a1818" stroke="#3a1818" stroke-width="0.06" text-anchor="middle">d9</text>
<text x="98.76" y="375.62" font-size="2.8" fill="#3a1818" stroke="#3a1818" stroke-width="0.06" text-anchor="middle">e0</text>
<text x="102.87" y="372.44" font-size="2.8" fill="#3a1818" stroke="#3a1818" stroke-width="0.06" text-anchor="middle">e1</text>
<text x="108.61" y="368.85" font-size="2.8" fill="#3a1818" stroke="#3a1818" stroke-width="0.06" text-anchor="middle">e2</text>
<text x="121.86" y="363.53" font-size="2.8" fill="#3a1818" stroke="#3a1818" stroke-width="0.06" text-anchor="middle">e3</text>
<text x="140.08" y="347.05" font-size="2.8" fill="#3a1818" stroke="#3a1818" stroke-width="0.06" text-anchor="middle">e4</text>
<text x="139.91" y="351.75" font-size="2.8" fill="#3a1818" stroke="#3a1818" stroke-width="0.06" text-anchor="middle">e5</text>
<text x="139.72" y="356.65" font-size="2.8" fill="#3a1818" stroke="#3a1818" stroke-width="0.06" text-anchor="middle">e6</text>
<text x="139.54" y="361.54" font-size="2.8" fill="#3a1818" stroke="#3a1818" stroke-width="0.06" text-anchor="middle">e7</text>
<text x="147.51" y="367.36" font-size="2.8" fill="#3a1818" stroke="#3a1818" stroke-width="0.06" text-anchor="middle">e8</text>
<text x="156.01" y="359.37" font-size="2.8" fill="#3a1818" stroke="#3a1818" stroke-width="0.06" text-anchor="middle">e9</text>
<text x="154.74" y="364.11" font-size="2.8" fill="#3a1818" stroke="#3a1818" stroke-width="0.06" text-anchor="middle">f0</text>
<text x="153.31" y="368.79" font-size="2.8" fill="#3a1818" stroke="#3a1818" stroke-width="0.06" text-anchor="middle">f1</text>
<text x="165.09" y="362.89" font-size="2.8" fill="#3a1818" stroke="#3a1818" stroke-width="0.06" text-anchor="middle">f2</text>
<text x="162.98" y="367.31" font-size="2.8" fill="#3a1818" stroke="#3a1818" stroke-width="0.06" text-anchor="middle">f3</text>
<text x="185.98" y="371.61" font-size="2.8" fill="#3a1818" stroke="#3a1818" stroke-width="0.06" text-anchor="middle">f4</text>
<text x="187.11" y="380.09" font-size="2.8" fill="#3a1818" stroke="#3a1818" stroke-width="0.06" text-anchor="middle">f5</text>
<text x="191.44" y="385.99" font-size="2.8" fill="#3a1818" stroke="#3a1818" stroke-width="0.06" text-anchor="middle">f6</text>
<text x="195.07" y="392.35" font-size="2.8" fill="#3a1818" stroke="#3a1818" stroke-width="0.06" text-anchor="middle">f7</text>
<text x="169.35" y="370.84" font-size="2.8" fill="#3a1818" stroke="#3a1818" stroke-width="0.06" text-anchor="middle">f8</text>
<text x="174.02" y="374.15" font-size="2.8" fill="#3a1818" stroke="#3a1818" stroke-width="0.06" text-anchor="middle">f9</text>
<text x="178.74" y="378.24" font-size="2.8" fill="#3a1818" stroke="#3a1818" stroke-width="0.06" text-anchor="middle">g0</text>
<text x="183.16" y="383.01" font-size="2.8" fill="#3a1818" stroke="#3a1818" stroke-width="0.06" text-anchor="middle">g1</text>
<text x="187.47" y="388.88" font-size="2.8" fill="#3a1818" stroke="#3a1818" stroke-width="0.06" text-anchor="middle">g2</text>
<text x="190.91" y="395.00" font-size="2.8" fill="#3a1818" stroke="#3a1818" stroke-width="0.06" text-anchor="middle">g3</text>
<text x="207.82" y="398.24" font-size="2.8" fill="#3a1818" stroke="#3a1818" stroke-width="0.06" text-anchor="middle">g4</text>
<text x="203.35" y="399.69" font-size="2.8" fill="#3a1818" stroke="#3a1818" stroke-width="0.06" text-anchor="middle">g5</text>
<text x="198.69" y="401.20" font-size="2.8" fill="#3a1818" stroke="#3a1818" stroke-width="0.06" text-anchor="middle">g6</text>
<text x="194.11" y="402.96" font-size="2.8" fill="#3a1818" stroke="#3a1818" stroke-width="0.06" text-anchor="middle">g7</text>
<text x="201.01" y="410.77" font-size="2.8" fill="#3a1818" stroke="#3a1818" stroke-width="0.06" text-anchor="middle">g8</text>
<text x="206.72" y="419.15" font-size="2.8" fill="#3a1818" stroke="#3a1818" stroke-width="0.06" text-anchor="middle">g9</text>
<text x="210.68" y="431.79" font-size="2.8" fill="#3a1818" stroke="#3a1818" stroke-width="0.06" text-anchor="middle">h0</text>
<text x="206.03" y="431.12" font-size="2.8" fill="#3a1818" stroke="#3a1818" stroke-width="0.06" text-anchor="middle">h1</text>
<text x="201.18" y="430.41" font-size="2.8" fill="#3a1818" stroke="#3a1818" stroke-width="0.06" text-anchor="middle">h2</text>
<text x="196.33" y="429.71" font-size="2.8" fill="#3a1818" stroke="#3a1818" stroke-width="0.06" text-anchor="middle">h3</text>
<text x="191.45" y="429.24" font-size="2.8" fill="#3a1818" stroke="#3a1818" stroke-width="0.06" text-anchor="middle">h4</text>
<text x="207.51" y="444.98" font-size="2.8" fill="#3a1818" stroke="#3a1818" stroke-width="0.06" text-anchor="middle">h5</text>
<text x="203.06" y="443.47" font-size="2.8" fill="#3a1818" stroke="#3a1818" stroke-width="0.06" text-anchor="middle">h6</text>
<text x="198.42" y="441.90" font-size="2.8" fill="#3a1818" stroke="#3a1818" stroke-width="0.06" text-anchor="middle">h7</text>
<text x="193.78" y="440.32" font-size="2.8" fill="#3a1818" stroke="#3a1818" stroke-width="0.06" text-anchor="middle">h8</text>
<text x="198.48" y="454.02" font-size="2.8" fill="#3a1818" stroke="#3a1818" stroke-width="0.06" text-anchor="middle">h9</text>
<text x="181.45" y="453.52" font-size="2.8" fill="#3a1818" stroke="#3a1818" stroke-width="0.06" text-anchor="middle">a0</text>
<text x="180.75" y="462.02" font-size="2.8" fill="#3a1818" stroke="#3a1818" stroke-width="0.06" text-anchor="middle">a1</text>
<text x="178.36" y="470.96" font-size="2.8" fill="#3a1818" stroke="#3a1818" stroke-width="0.06" text-anchor="middle">a2</text>
<text x="175.24" y="467.18" font-size="2.8" fill="#3a1818" stroke="#3a1818" stroke-width="0.06" text-anchor="middle">a3</text>
<text x="169.35" y="471.46" font-size="2.8" fill="#3a1818" stroke="#3a1818" stroke-width="0.06" text-anchor="middle">a4</text>
<text x="166.72" y="467.33" font-size="2.8" fill="#3a1818" stroke="#3a1818" stroke-width="0.06" text-anchor="middle">a5</text>
<text x="164.84" y="479.53" font-size="2.8" fill="#3a1818" stroke="#3a1818" stroke-width="0.06" text-anchor="middle">a6</text>
<text x="157.61" y="487.57" font-size="2.8" fill="#3a1818" stroke="#3a1818" stroke-width="0.06" text-anchor="middle">a7</text>
<text x="156.17" y="482.88" font-size="2.8" fill="#3a1818" stroke="#3a1818" stroke-width="0.06" text-anchor="middle">a8</text>
<text x="147.66" y="479.89" font-size="2.8" fill="#3a1818" stroke="#3a1818" stroke-width="0.06" text-anchor="middle">a9</text>
<text x="140.93" y="490.50" font-size="2.8" fill="#3a1818" stroke="#3a1818" stroke-width="0.06" text-anchor="middle">b0</text>
<text x="140.68" y="485.61" font-size="2.8" fill="#3a1818" stroke="#3a1818" stroke-width="0.06" text-anchor="middle">b1</text>
<text transform="translate(58.6 419.6) rotate(-90)" font-size="2.9" fill="#3a2020" text-anchor="middle" textLength="17" lengthAdjust="spacingAndGlyphs">Bacteroidota</text>
<text transform="translate(214.2 437.6) rotate(103.6)" font-size="2.6" fill="#5a3030" text-anchor="middle" textLength="38" lengthAdjust="spacingAndGlyphs">Proteobacteria</text>
<text transform="translate(128.5 498.6) rotate(6)" font-size="2.9" fill="#3a2020" text-anchor="middle" textLength="24" lengthAdjust="spacingAndGlyphs">Actinobacteriota</text>
<text transform="translate(136.4 342.2) rotate(-1)" font-size="2.5" fill="#3a2020" text-anchor="middle" textLength="32.5" lengthAdjust="spacingAndGlyphs">Unclassified Bdellovibrionota</text>
</svg>
</body></html>
